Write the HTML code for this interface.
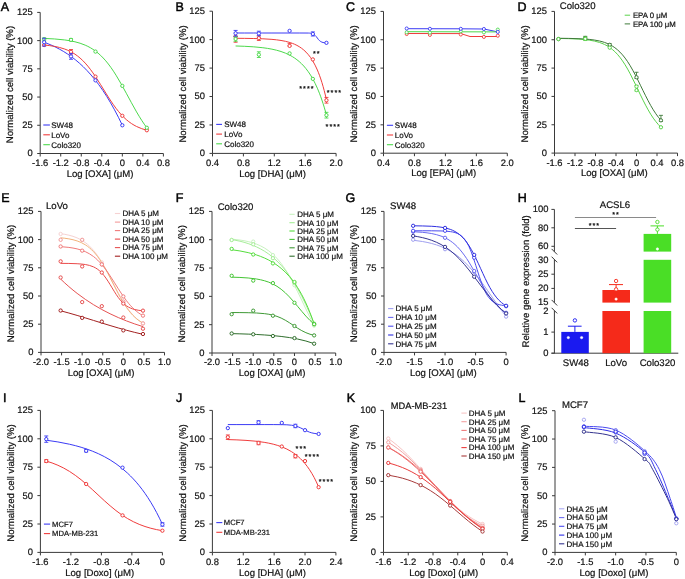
<!DOCTYPE html>
<html><head><meta charset="utf-8"><style>
html,body{margin:0;padding:0;background:#fff;}
svg{display:block;font-family:'Liberation Sans', sans-serif;will-change:transform;text-rendering:geometricPrecision;}
</style></head><body>
<svg width="685" height="579" viewBox="0 0 685 579">
<rect width="685" height="579" fill="#fff"/>
<text x="0.70" y="10.80" font-size="12.5" text-anchor="start" fill="#000" stroke="#000" stroke-width="0.45">A</text>
<text x="175.40" y="10.90" font-size="12.5" text-anchor="start" fill="#000" stroke="#000" stroke-width="0.45">B</text>
<text x="346.10" y="10.90" font-size="12.5" text-anchor="start" fill="#000" stroke="#000" stroke-width="0.45">C</text>
<text x="517.50" y="10.80" font-size="12.5" text-anchor="start" fill="#000" stroke="#000" stroke-width="0.45">D</text>
<text x="1.30" y="201.80" font-size="12.5" text-anchor="start" fill="#000" stroke="#000" stroke-width="0.45">E</text>
<text x="175.70" y="201.80" font-size="12.5" text-anchor="start" fill="#000" stroke="#000" stroke-width="0.45">F</text>
<text x="345.50" y="202.30" font-size="12.5" text-anchor="start" fill="#000" stroke="#000" stroke-width="0.45">G</text>
<text x="517.70" y="201.80" font-size="12.5" text-anchor="start" fill="#000" stroke="#000" stroke-width="0.45">H</text>
<text x="3.00" y="401.80" font-size="12.5" text-anchor="start" fill="#000" stroke="#000" stroke-width="0.45">I</text>
<text x="176.10" y="402.00" font-size="12.5" text-anchor="start" fill="#000" stroke="#000" stroke-width="0.45">J</text>
<text x="346.70" y="402.20" font-size="12.5" text-anchor="start" fill="#000" stroke="#000" stroke-width="0.45">K</text>
<text x="518.60" y="402.20" font-size="12.5" text-anchor="start" fill="#000" stroke="#000" stroke-width="0.45">L</text>
<line x1="40.20" y1="153.50" x2="163.40" y2="153.50" stroke="#3a3a3a" stroke-width="1.0"/>
<line x1="40.20" y1="153.50" x2="40.20" y2="12.40" stroke="#3a3a3a" stroke-width="1.0"/>
<line x1="37.20" y1="153.50" x2="40.20" y2="153.50" stroke="#3a3a3a" stroke-width="1.0"/>
<text x="32.70" y="156.40" font-size="9.4" text-anchor="end" fill="#111" stroke="#111" stroke-width="0.2">0</text>
<line x1="37.20" y1="125.28" x2="40.20" y2="125.28" stroke="#3a3a3a" stroke-width="1.0"/>
<text x="32.70" y="128.18" font-size="9.4" text-anchor="end" fill="#111" stroke="#111" stroke-width="0.2">25</text>
<line x1="37.20" y1="97.06" x2="40.20" y2="97.06" stroke="#3a3a3a" stroke-width="1.0"/>
<text x="32.70" y="99.96" font-size="9.4" text-anchor="end" fill="#111" stroke="#111" stroke-width="0.2">50</text>
<line x1="37.20" y1="68.84" x2="40.20" y2="68.84" stroke="#3a3a3a" stroke-width="1.0"/>
<text x="32.70" y="71.74" font-size="9.4" text-anchor="end" fill="#111" stroke="#111" stroke-width="0.2">75</text>
<line x1="37.20" y1="40.62" x2="40.20" y2="40.62" stroke="#3a3a3a" stroke-width="1.0"/>
<text x="32.70" y="43.52" font-size="9.4" text-anchor="end" fill="#111" stroke="#111" stroke-width="0.2">100</text>
<line x1="37.20" y1="12.40" x2="40.20" y2="12.40" stroke="#3a3a3a" stroke-width="1.0"/>
<text x="32.70" y="15.30" font-size="9.4" text-anchor="end" fill="#111" stroke="#111" stroke-width="0.2">125</text>
<line x1="40.20" y1="153.50" x2="40.20" y2="156.50" stroke="#3a3a3a" stroke-width="1.0"/>
<text x="40.20" y="165.90" font-size="9.4" text-anchor="middle" fill="#111" stroke="#111" stroke-width="0.2">-1.6</text>
<line x1="60.73" y1="153.50" x2="60.73" y2="156.50" stroke="#3a3a3a" stroke-width="1.0"/>
<text x="60.73" y="165.90" font-size="9.4" text-anchor="middle" fill="#111" stroke="#111" stroke-width="0.2">-1.2</text>
<line x1="81.27" y1="153.50" x2="81.27" y2="156.50" stroke="#3a3a3a" stroke-width="1.0"/>
<text x="81.27" y="165.90" font-size="9.4" text-anchor="middle" fill="#111" stroke="#111" stroke-width="0.2">-0.8</text>
<line x1="101.80" y1="153.50" x2="101.80" y2="156.50" stroke="#3a3a3a" stroke-width="1.0"/>
<text x="101.80" y="165.90" font-size="9.4" text-anchor="middle" fill="#111" stroke="#111" stroke-width="0.2">-0.4</text>
<line x1="122.33" y1="153.50" x2="122.33" y2="156.50" stroke="#3a3a3a" stroke-width="1.0"/>
<text x="122.33" y="165.90" font-size="9.4" text-anchor="middle" fill="#111" stroke="#111" stroke-width="0.2">0</text>
<line x1="142.87" y1="153.50" x2="142.87" y2="156.50" stroke="#3a3a3a" stroke-width="1.0"/>
<text x="142.87" y="165.90" font-size="9.4" text-anchor="middle" fill="#111" stroke="#111" stroke-width="0.2">0.4</text>
<line x1="163.40" y1="153.50" x2="163.40" y2="156.50" stroke="#3a3a3a" stroke-width="1.0"/>
<text x="163.40" y="165.90" font-size="9.4" text-anchor="middle" fill="#111" stroke="#111" stroke-width="0.2">0.8</text>
<text x="100.10" y="176.70" font-size="9.6" text-anchor="middle" fill="#111" stroke="#111" stroke-width="0.2">Log [OXA] (μM)</text>
<text x="13.50" y="84.55" font-size="9.6" text-anchor="middle" fill="#111" stroke="#111" stroke-width="0.2" transform="rotate(-90 13.50 84.55)">Normalized cell viability (%)</text>
<path d="M44.16,42.20 C46.76,43.17 49.37,44.23 51.98,45.41 C54.58,46.59 57.19,47.88 59.79,49.32 C62.40,50.75 65.01,52.32 67.61,54.06 C70.22,55.80 72.82,57.71 75.43,59.81 C78.03,61.91 80.64,64.20 83.25,66.72 C85.85,69.25 88.46,71.99 91.06,74.99 C93.67,78.00 96.28,81.26 98.88,84.81 C101.49,88.36 104.09,92.20 106.70,96.36 C109.30,100.52 111.91,105.00 114.52,109.81 C117.12,114.62 119.73,119.78 122.33,125.28" fill="none" stroke="#3b3bf5" stroke-width="1.0"/>
<path d="M44.16,45.01 C47.58,45.32 51.00,45.73 54.43,46.35 C57.85,46.98 61.27,47.81 64.69,49.04 C68.11,50.27 71.54,51.89 74.96,54.16 C78.38,56.44 81.80,59.37 85.23,63.12 C88.65,66.88 92.07,71.47 95.49,76.62 C98.91,81.77 102.34,87.47 105.76,92.98 C109.18,98.50 112.60,103.79 116.03,108.32 C119.45,112.85 122.87,116.62 126.29,119.60 C129.71,122.58 133.14,124.80 136.56,126.49 C139.98,128.18 143.40,129.36 146.83,130.24" fill="none" stroke="#f03c3c" stroke-width="1.0"/>
<path d="M44.16,38.43 C47.58,38.56 51.00,38.72 54.43,38.95 C57.85,39.19 61.27,39.50 64.69,39.94 C68.11,40.38 71.54,40.96 74.96,41.79 C78.38,42.61 81.80,43.68 85.23,45.16 C88.65,46.64 92.07,48.55 95.49,51.09 C98.91,53.64 102.34,56.84 105.76,60.84 C109.18,64.85 112.60,69.68 116.03,75.19 C119.45,80.71 122.87,86.90 126.29,93.23 C129.71,99.57 133.14,106.00 136.56,111.92 C139.98,117.83 143.40,123.20 146.83,127.74" fill="none" stroke="#4cd94c" stroke-width="1.0"/>
<circle cx="44.16" cy="45.02" r="1.65" fill="#fff" stroke="#f03c3c" stroke-width="1.0"/>
<line x1="71.00" y1="49.54" x2="71.00" y2="54.05" stroke="#f03c3c" stroke-width="0.9"/>
<line x1="69.00" y1="49.54" x2="73.00" y2="49.54" stroke="#f03c3c" stroke-width="0.9"/>
<line x1="69.00" y1="54.05" x2="73.00" y2="54.05" stroke="#f03c3c" stroke-width="0.9"/>
<circle cx="71.00" cy="51.80" r="1.65" fill="#fff" stroke="#f03c3c" stroke-width="1.0"/>
<circle cx="95.49" cy="76.63" r="1.65" fill="#fff" stroke="#f03c3c" stroke-width="1.0"/>
<circle cx="122.33" cy="115.80" r="1.65" fill="#fff" stroke="#f03c3c" stroke-width="1.0"/>
<circle cx="146.83" cy="130.25" r="1.65" fill="#fff" stroke="#f03c3c" stroke-width="1.0"/>
<line x1="44.16" y1="38.02" x2="44.16" y2="40.28" stroke="#4cd94c" stroke-width="0.9"/>
<line x1="42.16" y1="38.02" x2="46.16" y2="38.02" stroke="#4cd94c" stroke-width="0.9"/>
<line x1="42.16" y1="40.28" x2="46.16" y2="40.28" stroke="#4cd94c" stroke-width="0.9"/>
<circle cx="44.16" cy="39.15" r="1.65" fill="#fff" stroke="#4cd94c" stroke-width="1.0"/>
<line x1="71.00" y1="38.70" x2="71.00" y2="40.96" stroke="#4cd94c" stroke-width="0.9"/>
<line x1="69.00" y1="38.70" x2="73.00" y2="38.70" stroke="#4cd94c" stroke-width="0.9"/>
<line x1="69.00" y1="40.96" x2="73.00" y2="40.96" stroke="#4cd94c" stroke-width="0.9"/>
<circle cx="71.00" cy="39.83" r="1.65" fill="#fff" stroke="#4cd94c" stroke-width="1.0"/>
<circle cx="95.49" cy="51.57" r="1.65" fill="#fff" stroke="#4cd94c" stroke-width="1.0"/>
<circle cx="122.33" cy="85.88" r="1.65" fill="#fff" stroke="#4cd94c" stroke-width="1.0"/>
<circle cx="146.83" cy="127.76" r="1.65" fill="#fff" stroke="#4cd94c" stroke-width="1.0"/>
<line x1="44.16" y1="38.25" x2="44.16" y2="46.15" stroke="#3b3bf5" stroke-width="0.9"/>
<line x1="42.16" y1="38.25" x2="46.16" y2="38.25" stroke="#3b3bf5" stroke-width="0.9"/>
<line x1="42.16" y1="46.15" x2="46.16" y2="46.15" stroke="#3b3bf5" stroke-width="0.9"/>
<circle cx="44.16" cy="42.20" r="1.65" fill="#fff" stroke="#3b3bf5" stroke-width="1.0"/>
<line x1="71.00" y1="53.60" x2="71.00" y2="59.25" stroke="#3b3bf5" stroke-width="0.9"/>
<line x1="69.00" y1="53.60" x2="73.00" y2="53.60" stroke="#3b3bf5" stroke-width="0.9"/>
<line x1="69.00" y1="59.25" x2="73.00" y2="59.25" stroke="#3b3bf5" stroke-width="0.9"/>
<circle cx="71.00" cy="56.42" r="1.65" fill="#fff" stroke="#3b3bf5" stroke-width="1.0"/>
<circle cx="95.49" cy="80.35" r="1.65" fill="#fff" stroke="#3b3bf5" stroke-width="1.0"/>
<circle cx="122.33" cy="125.28" r="1.65" fill="#fff" stroke="#3b3bf5" stroke-width="1.0"/>
<line x1="43.30" y1="125.00" x2="49.90" y2="125.00" stroke="#3b3bf5" stroke-width="1.1"/>
<text x="51.20" y="127.80" font-size="8.0" text-anchor="start" fill="#111" stroke="#111" stroke-width="0.2">SW48</text>
<line x1="43.30" y1="134.80" x2="49.90" y2="134.80" stroke="#f03c3c" stroke-width="1.1"/>
<text x="51.20" y="137.60" font-size="8.0" text-anchor="start" fill="#111" stroke="#111" stroke-width="0.2">LoVo</text>
<line x1="43.30" y1="144.70" x2="49.90" y2="144.70" stroke="#4cd94c" stroke-width="1.1"/>
<text x="51.20" y="147.50" font-size="8.0" text-anchor="start" fill="#111" stroke="#111" stroke-width="0.2">Colo320</text>
<line x1="212.50" y1="153.40" x2="336.10" y2="153.40" stroke="#3a3a3a" stroke-width="1.0"/>
<line x1="212.50" y1="153.40" x2="212.50" y2="11.20" stroke="#3a3a3a" stroke-width="1.0"/>
<line x1="209.50" y1="153.40" x2="212.50" y2="153.40" stroke="#3a3a3a" stroke-width="1.0"/>
<text x="205.00" y="156.30" font-size="9.4" text-anchor="end" fill="#111" stroke="#111" stroke-width="0.2">0</text>
<line x1="209.50" y1="124.96" x2="212.50" y2="124.96" stroke="#3a3a3a" stroke-width="1.0"/>
<text x="205.00" y="127.86" font-size="9.4" text-anchor="end" fill="#111" stroke="#111" stroke-width="0.2">25</text>
<line x1="209.50" y1="96.52" x2="212.50" y2="96.52" stroke="#3a3a3a" stroke-width="1.0"/>
<text x="205.00" y="99.42" font-size="9.4" text-anchor="end" fill="#111" stroke="#111" stroke-width="0.2">50</text>
<line x1="209.50" y1="68.08" x2="212.50" y2="68.08" stroke="#3a3a3a" stroke-width="1.0"/>
<text x="205.00" y="70.98" font-size="9.4" text-anchor="end" fill="#111" stroke="#111" stroke-width="0.2">75</text>
<line x1="209.50" y1="39.64" x2="212.50" y2="39.64" stroke="#3a3a3a" stroke-width="1.0"/>
<text x="205.00" y="42.54" font-size="9.4" text-anchor="end" fill="#111" stroke="#111" stroke-width="0.2">100</text>
<line x1="209.50" y1="11.20" x2="212.50" y2="11.20" stroke="#3a3a3a" stroke-width="1.0"/>
<text x="205.00" y="14.10" font-size="9.4" text-anchor="end" fill="#111" stroke="#111" stroke-width="0.2">125</text>
<line x1="212.50" y1="153.40" x2="212.50" y2="156.40" stroke="#3a3a3a" stroke-width="1.0"/>
<text x="212.50" y="165.80" font-size="9.4" text-anchor="middle" fill="#111" stroke="#111" stroke-width="0.2">0.4</text>
<line x1="243.40" y1="153.40" x2="243.40" y2="156.40" stroke="#3a3a3a" stroke-width="1.0"/>
<text x="243.40" y="165.80" font-size="9.4" text-anchor="middle" fill="#111" stroke="#111" stroke-width="0.2">0.8</text>
<line x1="274.30" y1="153.40" x2="274.30" y2="156.40" stroke="#3a3a3a" stroke-width="1.0"/>
<text x="274.30" y="165.80" font-size="9.4" text-anchor="middle" fill="#111" stroke="#111" stroke-width="0.2">1.2</text>
<line x1="305.20" y1="153.40" x2="305.20" y2="156.40" stroke="#3a3a3a" stroke-width="1.0"/>
<text x="305.20" y="165.80" font-size="9.4" text-anchor="middle" fill="#111" stroke="#111" stroke-width="0.2">1.6</text>
<line x1="336.10" y1="153.40" x2="336.10" y2="156.40" stroke="#3a3a3a" stroke-width="1.0"/>
<text x="336.10" y="165.80" font-size="9.4" text-anchor="middle" fill="#111" stroke="#111" stroke-width="0.2">2.0</text>
<text x="272.60" y="176.60" font-size="9.6" text-anchor="middle" fill="#111" stroke="#111" stroke-width="0.2">Log [DHA] (μM)</text>
<text x="185.80" y="83.90" font-size="9.6" text-anchor="middle" fill="#111" stroke="#111" stroke-width="0.2" transform="rotate(-90 185.80 83.90)">Normalized cell viability (%)</text>
<path d="M235.60,33.00 C238.62,33.00 241.65,33.00 244.68,33.00 C247.71,33.00 250.74,33.00 253.77,33.00 C256.79,33.00 259.82,33.00 262.85,33.00 C265.88,33.00 268.91,33.00 271.94,33.00 C274.97,33.00 277.99,33.00 281.02,33.00 C284.05,33.00 287.08,33.00 290.11,33.00 C293.14,33.00 296.16,33.00 299.19,33.00 C302.22,33.00 305.25,32.96 308.28,33.04 C311.31,33.11 314.33,33.50 317.36,38.07 C320.39,42.65 323.42,42.76 326.45,42.83" fill="none" stroke="#3b3bf5" stroke-width="1.0"/>
<path d="M235.60,38.30 C238.62,38.31 241.65,38.34 244.68,38.37 C247.71,38.41 250.74,38.45 253.77,38.52 C256.79,38.59 259.82,38.68 262.85,38.81 C265.88,38.94 268.91,39.11 271.94,39.37 C274.97,39.63 277.99,39.96 281.02,40.46 C284.05,40.95 287.08,41.60 290.11,42.57 C293.14,43.53 296.16,44.79 299.19,46.66 C302.22,48.52 305.25,50.98 308.28,54.60 C311.31,58.22 314.33,62.98 317.36,70.01 C320.39,77.03 323.42,86.27 326.45,99.90" fill="none" stroke="#f03c3c" stroke-width="1.0"/>
<path d="M235.60,45.97 C238.62,46.06 241.65,46.16 244.68,46.30 C247.71,46.44 250.74,46.62 253.77,46.84 C256.79,47.07 259.82,47.36 262.85,47.73 C265.88,48.10 268.91,48.56 271.94,49.17 C274.97,49.77 277.99,50.52 281.02,51.51 C284.05,52.50 287.08,53.72 290.11,55.33 C293.14,56.94 296.16,58.93 299.19,61.56 C302.22,64.18 305.25,67.43 308.28,71.70 C311.31,75.97 314.33,81.26 317.36,88.22 C320.39,95.18 323.42,103.80 326.45,115.13" fill="none" stroke="#4cd94c" stroke-width="1.0"/>
<line x1="235.60" y1="36.57" x2="235.60" y2="42.26" stroke="#f03c3c" stroke-width="0.9"/>
<line x1="233.60" y1="36.57" x2="237.60" y2="36.57" stroke="#f03c3c" stroke-width="0.9"/>
<line x1="233.60" y1="42.26" x2="237.60" y2="42.26" stroke="#f03c3c" stroke-width="0.9"/>
<circle cx="235.60" cy="36.57" r="1.65" fill="#fff" stroke="#f03c3c" stroke-width="1.0"/>
<line x1="258.85" y1="35.89" x2="258.85" y2="40.44" stroke="#f03c3c" stroke-width="0.9"/>
<line x1="256.85" y1="35.89" x2="260.85" y2="35.89" stroke="#f03c3c" stroke-width="0.9"/>
<line x1="256.85" y1="40.44" x2="260.85" y2="40.44" stroke="#f03c3c" stroke-width="0.9"/>
<circle cx="258.85" cy="38.16" r="1.65" fill="#fff" stroke="#f03c3c" stroke-width="1.0"/>
<line x1="289.59" y1="43.62" x2="289.59" y2="45.90" stroke="#f03c3c" stroke-width="0.9"/>
<line x1="287.59" y1="43.62" x2="291.59" y2="43.62" stroke="#f03c3c" stroke-width="0.9"/>
<line x1="287.59" y1="45.90" x2="291.59" y2="45.90" stroke="#f03c3c" stroke-width="0.9"/>
<circle cx="289.59" cy="45.90" r="1.65" fill="#fff" stroke="#f03c3c" stroke-width="1.0"/>
<circle cx="312.85" cy="59.43" r="1.65" fill="#fff" stroke="#f03c3c" stroke-width="1.0"/>
<line x1="326.45" y1="97.43" x2="326.45" y2="103.12" stroke="#f03c3c" stroke-width="0.9"/>
<line x1="324.45" y1="97.43" x2="328.45" y2="97.43" stroke="#f03c3c" stroke-width="0.9"/>
<line x1="324.45" y1="103.12" x2="328.45" y2="103.12" stroke="#f03c3c" stroke-width="0.9"/>
<circle cx="326.45" cy="100.27" r="1.65" fill="#fff" stroke="#f03c3c" stroke-width="1.0"/>
<line x1="235.60" y1="36.68" x2="235.60" y2="41.23" stroke="#4cd94c" stroke-width="0.9"/>
<line x1="233.60" y1="36.68" x2="237.60" y2="36.68" stroke="#4cd94c" stroke-width="0.9"/>
<line x1="233.60" y1="41.23" x2="237.60" y2="41.23" stroke="#4cd94c" stroke-width="0.9"/>
<circle cx="235.60" cy="38.96" r="1.65" fill="#fff" stroke="#4cd94c" stroke-width="1.0"/>
<line x1="258.85" y1="51.81" x2="258.85" y2="57.50" stroke="#4cd94c" stroke-width="0.9"/>
<line x1="256.85" y1="51.81" x2="260.85" y2="51.81" stroke="#4cd94c" stroke-width="0.9"/>
<line x1="256.85" y1="57.50" x2="260.85" y2="57.50" stroke="#4cd94c" stroke-width="0.9"/>
<circle cx="258.85" cy="54.66" r="1.65" fill="#fff" stroke="#4cd94c" stroke-width="1.0"/>
<circle cx="289.59" cy="53.40" r="1.65" fill="#fff" stroke="#4cd94c" stroke-width="1.0"/>
<circle cx="312.85" cy="78.89" r="1.65" fill="#fff" stroke="#4cd94c" stroke-width="1.0"/>
<line x1="326.45" y1="112.33" x2="326.45" y2="118.02" stroke="#4cd94c" stroke-width="0.9"/>
<line x1="324.45" y1="112.33" x2="328.45" y2="112.33" stroke="#4cd94c" stroke-width="0.9"/>
<line x1="324.45" y1="118.02" x2="328.45" y2="118.02" stroke="#4cd94c" stroke-width="0.9"/>
<circle cx="326.45" cy="115.18" r="1.65" fill="#fff" stroke="#4cd94c" stroke-width="1.0"/>
<line x1="235.60" y1="30.43" x2="235.60" y2="36.11" stroke="#3b3bf5" stroke-width="0.9"/>
<line x1="233.60" y1="30.43" x2="237.60" y2="30.43" stroke="#3b3bf5" stroke-width="0.9"/>
<line x1="233.60" y1="36.11" x2="237.60" y2="36.11" stroke="#3b3bf5" stroke-width="0.9"/>
<circle cx="235.60" cy="33.27" r="1.65" fill="#fff" stroke="#3b3bf5" stroke-width="1.0"/>
<line x1="258.85" y1="31.22" x2="258.85" y2="35.77" stroke="#3b3bf5" stroke-width="0.9"/>
<line x1="256.85" y1="31.22" x2="260.85" y2="31.22" stroke="#3b3bf5" stroke-width="0.9"/>
<line x1="256.85" y1="35.77" x2="260.85" y2="35.77" stroke="#3b3bf5" stroke-width="0.9"/>
<circle cx="258.85" cy="33.50" r="1.65" fill="#fff" stroke="#3b3bf5" stroke-width="1.0"/>
<circle cx="289.59" cy="30.88" r="1.65" fill="#fff" stroke="#3b3bf5" stroke-width="1.0"/>
<line x1="312.85" y1="31.90" x2="312.85" y2="36.00" stroke="#3b3bf5" stroke-width="0.9"/>
<line x1="310.85" y1="31.90" x2="314.85" y2="31.90" stroke="#3b3bf5" stroke-width="0.9"/>
<line x1="310.85" y1="36.00" x2="314.85" y2="36.00" stroke="#3b3bf5" stroke-width="0.9"/>
<circle cx="312.85" cy="33.95" r="1.65" fill="#fff" stroke="#3b3bf5" stroke-width="1.0"/>
<circle cx="326.45" cy="42.83" r="1.65" fill="#fff" stroke="#3b3bf5" stroke-width="1.0"/>
<line x1="216.20" y1="124.40" x2="222.00" y2="124.40" stroke="#3b3bf5" stroke-width="1.1"/>
<text x="224.20" y="127.20" font-size="8.0" text-anchor="start" fill="#111" stroke="#111" stroke-width="0.2">SW48</text>
<line x1="216.20" y1="134.10" x2="222.00" y2="134.10" stroke="#f03c3c" stroke-width="1.1"/>
<text x="224.20" y="136.90" font-size="8.0" text-anchor="start" fill="#111" stroke="#111" stroke-width="0.2">LoVo</text>
<line x1="216.20" y1="143.80" x2="222.00" y2="143.80" stroke="#4cd94c" stroke-width="1.1"/>
<text x="224.20" y="146.60" font-size="8.0" text-anchor="start" fill="#111" stroke="#111" stroke-width="0.2">Colo320</text>
<text x="316.80" y="55.90" font-size="7.2" text-anchor="middle" letter-spacing="1.0" fill="#111" stroke="#111" stroke-width="0.25">**</text>
<text x="306.90" y="91.30" font-size="7.2" text-anchor="middle" letter-spacing="1.0" fill="#111" stroke="#111" stroke-width="0.25">****</text>
<text x="334.40" y="95.30" font-size="7.2" text-anchor="middle" letter-spacing="1.0" fill="#111" stroke="#111" stroke-width="0.25">****</text>
<text x="333.20" y="129.00" font-size="7.2" text-anchor="middle" letter-spacing="1.0" fill="#111" stroke="#111" stroke-width="0.25">****</text>
<line x1="383.50" y1="153.20" x2="507.30" y2="153.20" stroke="#3a3a3a" stroke-width="1.0"/>
<line x1="383.50" y1="153.20" x2="383.50" y2="11.40" stroke="#3a3a3a" stroke-width="1.0"/>
<line x1="380.50" y1="153.20" x2="383.50" y2="153.20" stroke="#3a3a3a" stroke-width="1.0"/>
<text x="376.00" y="156.10" font-size="9.4" text-anchor="end" fill="#111" stroke="#111" stroke-width="0.2">0</text>
<line x1="380.50" y1="124.84" x2="383.50" y2="124.84" stroke="#3a3a3a" stroke-width="1.0"/>
<text x="376.00" y="127.74" font-size="9.4" text-anchor="end" fill="#111" stroke="#111" stroke-width="0.2">25</text>
<line x1="380.50" y1="96.48" x2="383.50" y2="96.48" stroke="#3a3a3a" stroke-width="1.0"/>
<text x="376.00" y="99.38" font-size="9.4" text-anchor="end" fill="#111" stroke="#111" stroke-width="0.2">50</text>
<line x1="380.50" y1="68.12" x2="383.50" y2="68.12" stroke="#3a3a3a" stroke-width="1.0"/>
<text x="376.00" y="71.02" font-size="9.4" text-anchor="end" fill="#111" stroke="#111" stroke-width="0.2">75</text>
<line x1="380.50" y1="39.76" x2="383.50" y2="39.76" stroke="#3a3a3a" stroke-width="1.0"/>
<text x="376.00" y="42.66" font-size="9.4" text-anchor="end" fill="#111" stroke="#111" stroke-width="0.2">100</text>
<line x1="380.50" y1="11.40" x2="383.50" y2="11.40" stroke="#3a3a3a" stroke-width="1.0"/>
<text x="376.00" y="14.30" font-size="9.4" text-anchor="end" fill="#111" stroke="#111" stroke-width="0.2">125</text>
<line x1="383.50" y1="153.20" x2="383.50" y2="156.20" stroke="#3a3a3a" stroke-width="1.0"/>
<text x="383.50" y="165.60" font-size="9.4" text-anchor="middle" fill="#111" stroke="#111" stroke-width="0.2">0.4</text>
<line x1="414.45" y1="153.20" x2="414.45" y2="156.20" stroke="#3a3a3a" stroke-width="1.0"/>
<text x="414.45" y="165.60" font-size="9.4" text-anchor="middle" fill="#111" stroke="#111" stroke-width="0.2">0.8</text>
<line x1="445.40" y1="153.20" x2="445.40" y2="156.20" stroke="#3a3a3a" stroke-width="1.0"/>
<text x="445.40" y="165.60" font-size="9.4" text-anchor="middle" fill="#111" stroke="#111" stroke-width="0.2">1.2</text>
<line x1="476.35" y1="153.20" x2="476.35" y2="156.20" stroke="#3a3a3a" stroke-width="1.0"/>
<text x="476.35" y="165.60" font-size="9.4" text-anchor="middle" fill="#111" stroke="#111" stroke-width="0.2">1.6</text>
<line x1="507.30" y1="153.20" x2="507.30" y2="156.20" stroke="#3a3a3a" stroke-width="1.0"/>
<text x="507.30" y="165.60" font-size="9.4" text-anchor="middle" fill="#111" stroke="#111" stroke-width="0.2">2.0</text>
<text x="443.70" y="176.40" font-size="9.6" text-anchor="middle" fill="#111" stroke="#111" stroke-width="0.2">Log [EPA] (μM)</text>
<text x="356.80" y="83.90" font-size="9.6" text-anchor="middle" fill="#111" stroke="#111" stroke-width="0.2" transform="rotate(-90 356.80 83.90)">Normalized cell viability (%)</text>
<path d="M406.7,28.7 L460.8,28.8 L483.9,29.0 L497.8,31.9" fill="none" stroke="#3b3bf5" stroke-width="1.0"/>
<path d="M406.7,31.7 L497.8,31.9" fill="none" stroke="#4cd94c" stroke-width="1.0"/>
<path d="M406.7,33.5 L460.8,33.6 L470,36.5 L497.8,36.5" fill="none" stroke="#f03c3c" stroke-width="1.0"/>
<circle cx="406.70" cy="34.00" r="1.55" fill="#fff" stroke="#f03c3c" stroke-width="0.9"/>
<circle cx="429.90" cy="34.90" r="1.55" fill="#fff" stroke="#f03c3c" stroke-width="0.9"/>
<circle cx="460.80" cy="34.50" r="1.55" fill="#fff" stroke="#f03c3c" stroke-width="0.9"/>
<circle cx="483.90" cy="36.90" r="1.55" fill="#fff" stroke="#f03c3c" stroke-width="0.9"/>
<circle cx="497.80" cy="35.70" r="1.55" fill="#fff" stroke="#f03c3c" stroke-width="0.9"/>
<circle cx="406.70" cy="32.30" r="1.55" fill="#fff" stroke="#4cd94c" stroke-width="0.9"/>
<circle cx="429.90" cy="32.60" r="1.55" fill="#fff" stroke="#4cd94c" stroke-width="0.9"/>
<circle cx="460.80" cy="31.20" r="1.55" fill="#fff" stroke="#4cd94c" stroke-width="0.9"/>
<circle cx="483.90" cy="32.40" r="1.55" fill="#fff" stroke="#4cd94c" stroke-width="0.9"/>
<circle cx="497.80" cy="29.60" r="1.55" fill="#fff" stroke="#4cd94c" stroke-width="0.9"/>
<circle cx="406.70" cy="28.50" r="1.55" fill="#fff" stroke="#3b3bf5" stroke-width="0.9"/>
<circle cx="429.90" cy="28.80" r="1.55" fill="#fff" stroke="#3b3bf5" stroke-width="0.9"/>
<circle cx="460.80" cy="28.80" r="1.55" fill="#fff" stroke="#3b3bf5" stroke-width="0.9"/>
<circle cx="483.90" cy="29.00" r="1.55" fill="#fff" stroke="#3b3bf5" stroke-width="0.9"/>
<circle cx="497.80" cy="31.90" r="1.55" fill="#fff" stroke="#3b3bf5" stroke-width="0.9"/>
<line x1="386.90" y1="125.30" x2="393.10" y2="125.30" stroke="#3b3bf5" stroke-width="1.1"/>
<text x="394.80" y="128.10" font-size="8.0" text-anchor="start" fill="#111" stroke="#111" stroke-width="0.2">SW48</text>
<line x1="386.90" y1="135.00" x2="393.10" y2="135.00" stroke="#f03c3c" stroke-width="1.1"/>
<text x="394.80" y="137.80" font-size="8.0" text-anchor="start" fill="#111" stroke="#111" stroke-width="0.2">LoVo</text>
<line x1="386.90" y1="144.70" x2="393.10" y2="144.70" stroke="#4cd94c" stroke-width="1.1"/>
<text x="394.80" y="147.50" font-size="8.0" text-anchor="start" fill="#111" stroke="#111" stroke-width="0.2">Colo320</text>
<line x1="554.50" y1="153.10" x2="677.50" y2="153.10" stroke="#3a3a3a" stroke-width="1.0"/>
<line x1="554.50" y1="153.10" x2="554.50" y2="11.40" stroke="#3a3a3a" stroke-width="1.0"/>
<line x1="551.50" y1="153.10" x2="554.50" y2="153.10" stroke="#3a3a3a" stroke-width="1.0"/>
<text x="547.00" y="156.00" font-size="9.4" text-anchor="end" fill="#111" stroke="#111" stroke-width="0.2">0</text>
<line x1="551.50" y1="124.76" x2="554.50" y2="124.76" stroke="#3a3a3a" stroke-width="1.0"/>
<text x="547.00" y="127.66" font-size="9.4" text-anchor="end" fill="#111" stroke="#111" stroke-width="0.2">25</text>
<line x1="551.50" y1="96.42" x2="554.50" y2="96.42" stroke="#3a3a3a" stroke-width="1.0"/>
<text x="547.00" y="99.32" font-size="9.4" text-anchor="end" fill="#111" stroke="#111" stroke-width="0.2">50</text>
<line x1="551.50" y1="68.08" x2="554.50" y2="68.08" stroke="#3a3a3a" stroke-width="1.0"/>
<text x="547.00" y="70.98" font-size="9.4" text-anchor="end" fill="#111" stroke="#111" stroke-width="0.2">75</text>
<line x1="551.50" y1="39.74" x2="554.50" y2="39.74" stroke="#3a3a3a" stroke-width="1.0"/>
<text x="547.00" y="42.64" font-size="9.4" text-anchor="end" fill="#111" stroke="#111" stroke-width="0.2">100</text>
<line x1="551.50" y1="11.40" x2="554.50" y2="11.40" stroke="#3a3a3a" stroke-width="1.0"/>
<text x="547.00" y="14.30" font-size="9.4" text-anchor="end" fill="#111" stroke="#111" stroke-width="0.2">125</text>
<line x1="554.50" y1="153.10" x2="554.50" y2="156.10" stroke="#3a3a3a" stroke-width="1.0"/>
<text x="554.50" y="165.50" font-size="9.4" text-anchor="middle" fill="#111" stroke="#111" stroke-width="0.2">-1.6</text>
<line x1="575.00" y1="153.10" x2="575.00" y2="156.10" stroke="#3a3a3a" stroke-width="1.0"/>
<text x="575.00" y="165.50" font-size="9.4" text-anchor="middle" fill="#111" stroke="#111" stroke-width="0.2">-1.2</text>
<line x1="595.50" y1="153.10" x2="595.50" y2="156.10" stroke="#3a3a3a" stroke-width="1.0"/>
<text x="595.50" y="165.50" font-size="9.4" text-anchor="middle" fill="#111" stroke="#111" stroke-width="0.2">-0.8</text>
<line x1="616.00" y1="153.10" x2="616.00" y2="156.10" stroke="#3a3a3a" stroke-width="1.0"/>
<text x="616.00" y="165.50" font-size="9.4" text-anchor="middle" fill="#111" stroke="#111" stroke-width="0.2">-0.4</text>
<line x1="636.50" y1="153.10" x2="636.50" y2="156.10" stroke="#3a3a3a" stroke-width="1.0"/>
<text x="636.50" y="165.50" font-size="9.4" text-anchor="middle" fill="#111" stroke="#111" stroke-width="0.2">0</text>
<line x1="657.00" y1="153.10" x2="657.00" y2="156.10" stroke="#3a3a3a" stroke-width="1.0"/>
<text x="657.00" y="165.50" font-size="9.4" text-anchor="middle" fill="#111" stroke="#111" stroke-width="0.2">0.4</text>
<line x1="677.50" y1="153.10" x2="677.50" y2="156.10" stroke="#3a3a3a" stroke-width="1.0"/>
<text x="677.50" y="165.50" font-size="9.4" text-anchor="middle" fill="#111" stroke="#111" stroke-width="0.2">0.8</text>
<text x="614.30" y="176.30" font-size="9.6" text-anchor="middle" fill="#111" stroke="#111" stroke-width="0.2">Log [OXA] (μM)</text>
<text x="527.80" y="83.85" font-size="9.6" text-anchor="middle" fill="#111" stroke="#111" stroke-width="0.2" transform="rotate(-90 527.80 83.85)">Normalized cell viability (%)</text>
<path d="M558.45,38.45 C561.87,38.50 565.29,38.55 568.70,38.65 C572.12,38.74 575.54,38.88 578.95,39.10 C582.37,39.32 585.79,39.62 589.20,40.13 C592.62,40.63 596.04,41.33 599.45,42.45 C602.87,43.57 606.29,45.11 609.70,47.46 C613.12,49.80 616.54,52.98 619.95,57.35 C623.37,61.71 626.79,67.31 630.20,73.84 C633.62,80.37 637.04,87.78 640.45,94.89 C643.87,102.01 647.29,108.71 650.70,114.21 C654.12,119.70 657.54,124.01 660.95,127.24" fill="none" stroke="#5ad34a" stroke-width="1.0"/>
<path d="M558.45,38.28 C561.87,38.30 565.29,38.34 568.70,38.40 C572.12,38.46 575.54,38.55 578.95,38.70 C582.37,38.84 585.79,39.05 589.20,39.39 C592.62,39.73 596.04,40.21 599.45,40.99 C602.87,41.78 606.29,42.87 609.70,44.58 C613.12,46.30 616.54,48.66 619.95,52.09 C623.37,55.51 626.79,60.06 630.20,65.74 C633.62,71.43 637.04,78.27 640.45,85.30 C643.87,92.32 647.29,99.42 650.70,105.47 C654.12,111.52 657.54,116.52 660.95,120.33" fill="none" stroke="#3f7a3a" stroke-width="1.0"/>
<circle cx="558.45" cy="39.06" r="1.65" fill="#fff" stroke="#3f7a3a" stroke-width="1.0"/>
<line x1="585.25" y1="36.34" x2="585.25" y2="39.74" stroke="#3f7a3a" stroke-width="0.9"/>
<line x1="583.25" y1="36.34" x2="587.25" y2="36.34" stroke="#3f7a3a" stroke-width="0.9"/>
<line x1="583.25" y1="39.74" x2="587.25" y2="39.74" stroke="#3f7a3a" stroke-width="0.9"/>
<circle cx="585.25" cy="38.04" r="1.65" fill="#fff" stroke="#3f7a3a" stroke-width="1.0"/>
<line x1="609.70" y1="43.71" x2="609.70" y2="45.97" stroke="#3f7a3a" stroke-width="0.9"/>
<line x1="607.70" y1="43.71" x2="611.70" y2="43.71" stroke="#3f7a3a" stroke-width="0.9"/>
<line x1="607.70" y1="45.97" x2="611.70" y2="45.97" stroke="#3f7a3a" stroke-width="0.9"/>
<circle cx="609.70" cy="44.84" r="1.65" fill="#fff" stroke="#3f7a3a" stroke-width="1.0"/>
<line x1="636.50" y1="72.27" x2="636.50" y2="78.40" stroke="#3f7a3a" stroke-width="0.9"/>
<line x1="634.50" y1="72.27" x2="638.50" y2="72.27" stroke="#3f7a3a" stroke-width="0.9"/>
<line x1="634.50" y1="78.40" x2="638.50" y2="78.40" stroke="#3f7a3a" stroke-width="0.9"/>
<circle cx="636.50" cy="77.26" r="1.65" fill="#fff" stroke="#3f7a3a" stroke-width="1.0"/>
<line x1="660.95" y1="115.35" x2="660.95" y2="121.47" stroke="#3f7a3a" stroke-width="0.9"/>
<line x1="658.95" y1="115.35" x2="662.95" y2="115.35" stroke="#3f7a3a" stroke-width="0.9"/>
<line x1="658.95" y1="121.47" x2="662.95" y2="121.47" stroke="#3f7a3a" stroke-width="0.9"/>
<circle cx="660.95" cy="120.34" r="1.65" fill="#fff" stroke="#3f7a3a" stroke-width="1.0"/>
<circle cx="558.45" cy="39.06" r="1.65" fill="#fff" stroke="#5ad34a" stroke-width="1.0"/>
<line x1="585.25" y1="37.13" x2="585.25" y2="40.53" stroke="#5ad34a" stroke-width="0.9"/>
<line x1="583.25" y1="37.13" x2="587.25" y2="37.13" stroke="#5ad34a" stroke-width="0.9"/>
<line x1="583.25" y1="40.53" x2="587.25" y2="40.53" stroke="#5ad34a" stroke-width="0.9"/>
<circle cx="585.25" cy="38.83" r="1.65" fill="#fff" stroke="#5ad34a" stroke-width="1.0"/>
<circle cx="609.70" cy="47.68" r="1.65" fill="#fff" stroke="#5ad34a" stroke-width="1.0"/>
<line x1="636.50" y1="85.42" x2="636.50" y2="90.98" stroke="#5ad34a" stroke-width="0.9"/>
<line x1="634.50" y1="85.42" x2="638.50" y2="85.42" stroke="#5ad34a" stroke-width="0.9"/>
<line x1="634.50" y1="90.98" x2="638.50" y2="90.98" stroke="#5ad34a" stroke-width="0.9"/>
<circle cx="636.50" cy="86.56" r="1.65" fill="#fff" stroke="#5ad34a" stroke-width="1.0"/>
<circle cx="660.95" cy="127.25" r="1.65" fill="#fff" stroke="#5ad34a" stroke-width="1.0"/>
<circle cx="636.50" cy="90.19" r="1.55" fill="#fff" stroke="#5ad34a" stroke-width="1.0"/>
<text x="559.80" y="9.00" font-size="9.6" text-anchor="start" fill="#111" stroke="#111" stroke-width="0.2">Colo320</text>
<line x1="624.70" y1="15.20" x2="630.10" y2="15.20" stroke="#5ad34a" stroke-width="1.0"/>
<text x="632.90" y="18.00" font-size="7.8" text-anchor="start" fill="#111" stroke="#111" stroke-width="0.2">EPA 0 μM</text>
<line x1="624.70" y1="23.90" x2="630.10" y2="23.90" stroke="#3f7a3a" stroke-width="1.0"/>
<text x="632.90" y="26.70" font-size="7.8" text-anchor="start" fill="#111" stroke="#111" stroke-width="0.2">EPA 100 μM</text>
<line x1="41.00" y1="352.40" x2="164.50" y2="352.40" stroke="#3a3a3a" stroke-width="1.0"/>
<line x1="41.00" y1="352.40" x2="41.00" y2="211.40" stroke="#3a3a3a" stroke-width="1.0"/>
<line x1="38.00" y1="352.40" x2="41.00" y2="352.40" stroke="#3a3a3a" stroke-width="1.0"/>
<text x="33.50" y="355.30" font-size="9.4" text-anchor="end" fill="#111" stroke="#111" stroke-width="0.2">0</text>
<line x1="38.00" y1="324.20" x2="41.00" y2="324.20" stroke="#3a3a3a" stroke-width="1.0"/>
<text x="33.50" y="327.10" font-size="9.4" text-anchor="end" fill="#111" stroke="#111" stroke-width="0.2">25</text>
<line x1="38.00" y1="296.00" x2="41.00" y2="296.00" stroke="#3a3a3a" stroke-width="1.0"/>
<text x="33.50" y="298.90" font-size="9.4" text-anchor="end" fill="#111" stroke="#111" stroke-width="0.2">50</text>
<line x1="38.00" y1="267.80" x2="41.00" y2="267.80" stroke="#3a3a3a" stroke-width="1.0"/>
<text x="33.50" y="270.70" font-size="9.4" text-anchor="end" fill="#111" stroke="#111" stroke-width="0.2">75</text>
<line x1="38.00" y1="239.60" x2="41.00" y2="239.60" stroke="#3a3a3a" stroke-width="1.0"/>
<text x="33.50" y="242.50" font-size="9.4" text-anchor="end" fill="#111" stroke="#111" stroke-width="0.2">100</text>
<line x1="38.00" y1="211.40" x2="41.00" y2="211.40" stroke="#3a3a3a" stroke-width="1.0"/>
<text x="33.50" y="214.30" font-size="9.4" text-anchor="end" fill="#111" stroke="#111" stroke-width="0.2">125</text>
<line x1="41.00" y1="352.40" x2="41.00" y2="355.40" stroke="#3a3a3a" stroke-width="1.0"/>
<text x="41.00" y="364.80" font-size="9.4" text-anchor="middle" fill="#111" stroke="#111" stroke-width="0.2">-2.0</text>
<line x1="61.58" y1="352.40" x2="61.58" y2="355.40" stroke="#3a3a3a" stroke-width="1.0"/>
<text x="61.58" y="364.80" font-size="9.4" text-anchor="middle" fill="#111" stroke="#111" stroke-width="0.2">-1.5</text>
<line x1="82.17" y1="352.40" x2="82.17" y2="355.40" stroke="#3a3a3a" stroke-width="1.0"/>
<text x="82.17" y="364.80" font-size="9.4" text-anchor="middle" fill="#111" stroke="#111" stroke-width="0.2">-1.0</text>
<line x1="102.75" y1="352.40" x2="102.75" y2="355.40" stroke="#3a3a3a" stroke-width="1.0"/>
<text x="102.75" y="364.80" font-size="9.4" text-anchor="middle" fill="#111" stroke="#111" stroke-width="0.2">-0.5</text>
<line x1="123.33" y1="352.40" x2="123.33" y2="355.40" stroke="#3a3a3a" stroke-width="1.0"/>
<text x="123.33" y="364.80" font-size="9.4" text-anchor="middle" fill="#111" stroke="#111" stroke-width="0.2">0</text>
<line x1="143.92" y1="352.40" x2="143.92" y2="355.40" stroke="#3a3a3a" stroke-width="1.0"/>
<text x="143.92" y="364.80" font-size="9.4" text-anchor="middle" fill="#111" stroke="#111" stroke-width="0.2">0.5</text>
<line x1="164.50" y1="352.40" x2="164.50" y2="355.40" stroke="#3a3a3a" stroke-width="1.0"/>
<text x="164.50" y="364.80" font-size="9.4" text-anchor="middle" fill="#111" stroke="#111" stroke-width="0.2">1.0</text>
<text x="101.05" y="375.60" font-size="9.6" text-anchor="middle" fill="#111" stroke="#111" stroke-width="0.2">Log [OXA] (μM)</text>
<text x="14.30" y="283.50" font-size="9.6" text-anchor="middle" fill="#111" stroke="#111" stroke-width="0.2" transform="rotate(-90 14.30 283.50)">Normalized cell viability (%)</text>
<path d="M60.64,233.70 C63.39,234.06 66.13,234.52 68.87,235.18 C71.62,235.84 74.36,236.70 77.11,237.88 C79.85,239.07 82.60,240.59 85.34,242.63 C88.09,244.67 90.83,247.23 93.57,250.46 C96.32,253.69 99.06,257.60 101.81,262.11 C104.55,266.62 107.30,271.74 110.04,277.04 C112.79,282.35 115.53,287.82 118.27,292.91 C121.02,298.00 123.76,302.71 126.51,306.74 C129.25,310.76 132.00,314.12 134.74,316.85 C137.49,319.58 140.23,321.69 142.97,323.35" fill="none" stroke="#f6d2d2" stroke-width="1.0"/>
<circle cx="60.64" cy="233.96" r="1.65" fill="#fff" stroke="#f6d2d2" stroke-width="1.0"/>
<circle cx="82.17" cy="240.05" r="1.65" fill="#fff" stroke="#f6d2d2" stroke-width="1.0"/>
<circle cx="101.81" cy="262.39" r="1.65" fill="#fff" stroke="#f6d2d2" stroke-width="1.0"/>
<circle cx="123.33" cy="301.64" r="1.65" fill="#fff" stroke="#f6d2d2" stroke-width="1.0"/>
<circle cx="142.97" cy="323.41" r="1.65" fill="#fff" stroke="#f6d2d2" stroke-width="1.0"/>
<path d="M60.64,237.80 C63.39,238.05 66.13,238.38 68.87,238.86 C71.62,239.35 74.36,239.99 77.11,240.93 C79.85,241.86 82.60,243.09 85.34,244.82 C88.09,246.55 90.83,248.78 93.57,251.72 C96.32,254.66 99.06,258.32 101.81,262.70 C104.55,267.08 107.30,272.17 110.04,277.53 C112.79,282.88 115.53,288.47 118.27,293.63 C121.02,298.79 123.76,303.51 126.51,307.46 C129.25,311.41 132.00,314.62 134.74,317.15 C137.49,319.68 140.23,321.56 142.97,323.01" fill="none" stroke="#f2b27a" stroke-width="1.0"/>
<circle cx="60.64" cy="239.83" r="1.65" fill="#fff" stroke="#f39a9a" stroke-width="1.0"/>
<circle cx="82.17" cy="239.83" r="1.65" fill="#fff" stroke="#f39a9a" stroke-width="1.0"/>
<circle cx="101.81" cy="264.42" r="1.65" fill="#fff" stroke="#f39a9a" stroke-width="1.0"/>
<circle cx="123.33" cy="301.64" r="1.65" fill="#fff" stroke="#f39a9a" stroke-width="1.0"/>
<circle cx="142.97" cy="323.41" r="1.65" fill="#fff" stroke="#f39a9a" stroke-width="1.0"/>
<path d="M60.64,246.64 C63.39,246.82 66.13,247.06 68.87,247.41 C71.62,247.77 74.36,248.23 77.11,248.90 C79.85,249.57 82.60,250.44 85.34,251.67 C88.09,252.90 90.83,254.48 93.57,256.58 C96.32,258.69 99.06,261.32 101.81,264.55 C104.55,267.77 107.30,271.59 110.04,275.75 C112.79,279.91 115.53,284.40 118.27,288.72 C121.02,293.04 123.76,297.17 126.51,300.75 C129.25,304.33 132.00,307.37 134.74,309.82 C137.49,312.28 140.23,314.17 142.97,315.65" fill="none" stroke="#f07a7a" stroke-width="1.0"/>
<circle cx="60.64" cy="246.48" r="1.65" fill="#fff" stroke="#f07a7a" stroke-width="1.0"/>
<circle cx="82.17" cy="250.65" r="1.65" fill="#fff" stroke="#f07a7a" stroke-width="1.0"/>
<circle cx="101.81" cy="264.42" r="1.65" fill="#fff" stroke="#f07a7a" stroke-width="1.0"/>
<circle cx="123.33" cy="296.45" r="1.65" fill="#fff" stroke="#f07a7a" stroke-width="1.0"/>
<circle cx="142.97" cy="315.63" r="1.65" fill="#fff" stroke="#f07a7a" stroke-width="1.0"/>
<path d="M60.64,263.37 C63.39,263.38 66.13,263.40 68.87,263.45 C71.62,263.50 74.36,263.57 77.11,263.72 C79.85,263.87 82.60,264.09 85.34,264.53 C88.09,264.98 90.83,265.65 93.57,266.90 C96.32,268.16 99.06,270.04 101.81,272.97 C104.55,275.89 107.30,279.94 110.04,284.44 C112.79,288.93 115.53,293.69 118.27,297.46 C121.02,301.22 123.76,303.99 126.51,305.87 C129.25,307.74 132.00,308.81 134.74,309.52 C137.49,310.23 140.23,310.58 142.97,310.82" fill="none" stroke="#ea4a4a" stroke-width="1.0"/>
<circle cx="60.64" cy="261.37" r="1.65" fill="#fff" stroke="#ea4a4a" stroke-width="1.0"/>
<circle cx="82.17" cy="266.45" r="1.65" fill="#fff" stroke="#ea4a4a" stroke-width="1.0"/>
<circle cx="101.81" cy="272.54" r="1.65" fill="#fff" stroke="#ea4a4a" stroke-width="1.0"/>
<circle cx="123.33" cy="303.56" r="1.65" fill="#fff" stroke="#ea4a4a" stroke-width="1.0"/>
<circle cx="142.97" cy="310.66" r="1.65" fill="#fff" stroke="#ea4a4a" stroke-width="1.0"/>
<path d="M60.64,279.06 C63.39,281.73 66.13,284.24 68.87,286.62 C71.62,289.00 74.36,291.24 77.11,293.36 C79.85,295.48 82.60,297.48 85.34,299.37 C88.09,301.26 90.83,303.04 93.57,304.72 C96.32,306.41 99.06,307.99 101.81,309.50 C104.55,311.00 107.30,312.41 110.04,313.75 C112.79,315.09 115.53,316.36 118.27,317.55 C121.02,318.74 123.76,319.87 126.51,320.93 C129.25,322.00 132.00,323.00 134.74,323.95 C137.49,324.90 140.23,325.79 142.97,326.64" fill="none" stroke="#e65252" stroke-width="1.0"/>
<circle cx="60.64" cy="277.50" r="1.65" fill="#fff" stroke="#e65252" stroke-width="1.0"/>
<circle cx="82.17" cy="302.09" r="1.65" fill="#fff" stroke="#e65252" stroke-width="1.0"/>
<circle cx="101.81" cy="306.15" r="1.65" fill="#fff" stroke="#e65252" stroke-width="1.0"/>
<circle cx="123.33" cy="317.54" r="1.65" fill="#fff" stroke="#e65252" stroke-width="1.0"/>
<circle cx="142.97" cy="328.71" r="1.65" fill="#fff" stroke="#e65252" stroke-width="1.0"/>
<path d="M60.64,310.79 C63.39,311.51 66.13,312.26 68.87,313.03 C71.62,313.80 74.36,314.60 77.11,315.41 C79.85,316.22 82.60,317.06 85.34,317.90 C88.09,318.74 90.83,319.60 93.57,320.45 C96.32,321.31 99.06,322.16 101.81,323.01 C104.55,323.86 107.30,324.71 110.04,325.53 C112.79,326.36 115.53,327.17 118.27,327.96 C121.02,328.75 123.76,329.52 126.51,330.26 C129.25,331.00 132.00,331.71 134.74,332.39 C137.49,333.07 140.23,333.72 142.97,334.33" fill="none" stroke="#a32121" stroke-width="1.0"/>
<circle cx="60.64" cy="310.55" r="1.65" fill="#fff" stroke="#a32121" stroke-width="1.0"/>
<circle cx="82.17" cy="317.88" r="1.65" fill="#fff" stroke="#a32121" stroke-width="1.0"/>
<circle cx="101.81" cy="321.61" r="1.65" fill="#fff" stroke="#a32121" stroke-width="1.0"/>
<circle cx="123.33" cy="330.40" r="1.65" fill="#fff" stroke="#a32121" stroke-width="1.0"/>
<circle cx="142.97" cy="334.01" r="1.65" fill="#fff" stroke="#a32121" stroke-width="1.0"/>
<text x="46.00" y="208.60" font-size="9.6" text-anchor="start" fill="#111" stroke="#111" stroke-width="0.2">LoVo</text>
<line x1="114.90" y1="213.50" x2="120.20" y2="213.50" stroke="#f6d2d2" stroke-width="1.1"/>
<text x="122.40" y="216.30" font-size="8.0" text-anchor="start" fill="#111" stroke="#111" stroke-width="0.2">DHA 5 μM</text>
<line x1="114.90" y1="222.10" x2="120.20" y2="222.10" stroke="#f39a9a" stroke-width="1.1"/>
<text x="122.40" y="224.90" font-size="8.0" text-anchor="start" fill="#111" stroke="#111" stroke-width="0.2">DHA 10 μM</text>
<line x1="114.90" y1="230.60" x2="120.20" y2="230.60" stroke="#f07a7a" stroke-width="1.1"/>
<text x="122.40" y="233.40" font-size="8.0" text-anchor="start" fill="#111" stroke="#111" stroke-width="0.2">DHA 25 μM</text>
<line x1="114.90" y1="239.10" x2="120.20" y2="239.10" stroke="#ea4a4a" stroke-width="1.1"/>
<text x="122.40" y="241.90" font-size="8.0" text-anchor="start" fill="#111" stroke="#111" stroke-width="0.2">DHA 50 μM</text>
<line x1="114.90" y1="247.60" x2="120.20" y2="247.60" stroke="#e65252" stroke-width="1.1"/>
<text x="122.40" y="250.40" font-size="8.0" text-anchor="start" fill="#111" stroke="#111" stroke-width="0.2">DHA 75 μM</text>
<line x1="114.90" y1="256.20" x2="120.20" y2="256.20" stroke="#a32121" stroke-width="1.1"/>
<text x="122.40" y="259.00" font-size="8.0" text-anchor="start" fill="#111" stroke="#111" stroke-width="0.2">DHA 100 μM</text>
<line x1="212.00" y1="353.00" x2="335.70" y2="353.00" stroke="#3a3a3a" stroke-width="1.0"/>
<line x1="212.00" y1="353.00" x2="212.00" y2="211.40" stroke="#3a3a3a" stroke-width="1.0"/>
<line x1="209.00" y1="353.00" x2="212.00" y2="353.00" stroke="#3a3a3a" stroke-width="1.0"/>
<text x="204.50" y="355.90" font-size="9.4" text-anchor="end" fill="#111" stroke="#111" stroke-width="0.2">0</text>
<line x1="209.00" y1="324.68" x2="212.00" y2="324.68" stroke="#3a3a3a" stroke-width="1.0"/>
<text x="204.50" y="327.58" font-size="9.4" text-anchor="end" fill="#111" stroke="#111" stroke-width="0.2">25</text>
<line x1="209.00" y1="296.36" x2="212.00" y2="296.36" stroke="#3a3a3a" stroke-width="1.0"/>
<text x="204.50" y="299.26" font-size="9.4" text-anchor="end" fill="#111" stroke="#111" stroke-width="0.2">50</text>
<line x1="209.00" y1="268.04" x2="212.00" y2="268.04" stroke="#3a3a3a" stroke-width="1.0"/>
<text x="204.50" y="270.94" font-size="9.4" text-anchor="end" fill="#111" stroke="#111" stroke-width="0.2">75</text>
<line x1="209.00" y1="239.72" x2="212.00" y2="239.72" stroke="#3a3a3a" stroke-width="1.0"/>
<text x="204.50" y="242.62" font-size="9.4" text-anchor="end" fill="#111" stroke="#111" stroke-width="0.2">100</text>
<line x1="209.00" y1="211.40" x2="212.00" y2="211.40" stroke="#3a3a3a" stroke-width="1.0"/>
<text x="204.50" y="214.30" font-size="9.4" text-anchor="end" fill="#111" stroke="#111" stroke-width="0.2">125</text>
<line x1="212.00" y1="353.00" x2="212.00" y2="356.00" stroke="#3a3a3a" stroke-width="1.0"/>
<text x="212.00" y="365.40" font-size="9.4" text-anchor="middle" fill="#111" stroke="#111" stroke-width="0.2">-2.0</text>
<line x1="232.62" y1="353.00" x2="232.62" y2="356.00" stroke="#3a3a3a" stroke-width="1.0"/>
<text x="232.62" y="365.40" font-size="9.4" text-anchor="middle" fill="#111" stroke="#111" stroke-width="0.2">-1.5</text>
<line x1="253.23" y1="353.00" x2="253.23" y2="356.00" stroke="#3a3a3a" stroke-width="1.0"/>
<text x="253.23" y="365.40" font-size="9.4" text-anchor="middle" fill="#111" stroke="#111" stroke-width="0.2">-1.0</text>
<line x1="273.85" y1="353.00" x2="273.85" y2="356.00" stroke="#3a3a3a" stroke-width="1.0"/>
<text x="273.85" y="365.40" font-size="9.4" text-anchor="middle" fill="#111" stroke="#111" stroke-width="0.2">-0.5</text>
<line x1="294.47" y1="353.00" x2="294.47" y2="356.00" stroke="#3a3a3a" stroke-width="1.0"/>
<text x="294.47" y="365.40" font-size="9.4" text-anchor="middle" fill="#111" stroke="#111" stroke-width="0.2">0</text>
<line x1="315.08" y1="353.00" x2="315.08" y2="356.00" stroke="#3a3a3a" stroke-width="1.0"/>
<text x="315.08" y="365.40" font-size="9.4" text-anchor="middle" fill="#111" stroke="#111" stroke-width="0.2">0.5</text>
<line x1="335.70" y1="353.00" x2="335.70" y2="356.00" stroke="#3a3a3a" stroke-width="1.0"/>
<text x="335.70" y="365.40" font-size="9.4" text-anchor="middle" fill="#111" stroke="#111" stroke-width="0.2">1.0</text>
<text x="272.15" y="376.20" font-size="9.6" text-anchor="middle" fill="#111" stroke="#111" stroke-width="0.2">Log [OXA] (μM)</text>
<text x="185.30" y="283.80" font-size="9.6" text-anchor="middle" fill="#111" stroke="#111" stroke-width="0.2" transform="rotate(-90 185.30 283.80)">Normalized cell viability (%)</text>
<path d="M231.67,239.12 C234.42,239.36 237.17,239.66 239.92,240.05 C242.67,240.44 245.42,240.93 248.17,241.58 C250.92,242.23 253.66,243.04 256.41,244.09 C259.16,245.14 261.91,246.44 264.66,248.10 C267.41,249.76 270.16,251.80 272.91,254.32 C275.66,256.85 278.40,259.89 281.15,263.51 C283.90,267.13 286.65,271.34 289.40,276.10 C292.15,280.85 294.90,286.15 297.65,291.74 C300.40,297.33 303.14,303.20 305.89,308.96 C308.64,314.72 311.39,320.37 314.14,325.56" fill="none" stroke="#c8f2c0" stroke-width="1.0"/>
<circle cx="231.67" cy="239.90" r="1.65" fill="#fff" stroke="#c8f2c0" stroke-width="1.0"/>
<circle cx="253.23" cy="241.60" r="1.65" fill="#fff" stroke="#c8f2c0" stroke-width="1.0"/>
<circle cx="272.91" cy="255.10" r="1.65" fill="#fff" stroke="#c8f2c0" stroke-width="1.0"/>
<circle cx="294.47" cy="285.20" r="1.65" fill="#fff" stroke="#c8f2c0" stroke-width="1.0"/>
<circle cx="314.14" cy="325.60" r="1.65" fill="#fff" stroke="#c8f2c0" stroke-width="1.0"/>
<path d="M231.67,239.48 C234.42,239.96 237.17,240.53 239.92,241.20 C242.67,241.87 245.42,242.65 248.17,243.57 C250.92,244.50 253.66,245.57 256.41,246.84 C259.16,248.11 261.91,249.58 264.66,251.31 C267.41,253.03 270.16,255.01 272.91,257.32 C275.66,259.63 278.40,262.27 281.15,265.31 C283.90,268.34 286.65,271.78 289.40,275.67 C292.15,279.57 294.90,283.92 297.65,288.77 C300.40,293.62 303.14,298.95 305.89,304.76 C308.64,310.56 311.39,316.82 314.14,323.46" fill="none" stroke="#a6ee98" stroke-width="1.0"/>
<circle cx="231.67" cy="240.00" r="1.65" fill="#fff" stroke="#a6ee98" stroke-width="1.0"/>
<circle cx="253.23" cy="244.30" r="1.65" fill="#fff" stroke="#a6ee98" stroke-width="1.0"/>
<circle cx="272.91" cy="258.20" r="1.65" fill="#fff" stroke="#a6ee98" stroke-width="1.0"/>
<circle cx="294.47" cy="283.10" r="1.65" fill="#fff" stroke="#a6ee98" stroke-width="1.0"/>
<circle cx="314.14" cy="323.50" r="1.65" fill="#fff" stroke="#a6ee98" stroke-width="1.0"/>
<path d="M231.67,249.71 C234.42,250.06 237.17,250.46 239.92,250.94 C242.67,251.41 245.42,251.97 248.17,252.62 C250.92,253.27 253.66,254.03 256.41,254.92 C259.16,255.82 261.91,256.86 264.66,258.08 C267.41,259.31 270.16,260.73 272.91,262.42 C275.66,264.10 278.40,266.05 281.15,268.36 C283.90,270.67 286.65,273.34 289.40,276.51 C292.15,279.67 294.90,283.33 297.65,287.67 C300.40,292.02 303.14,297.04 305.89,302.99 C308.64,308.94 311.39,315.82 314.14,323.98" fill="none" stroke="#55dd3d" stroke-width="1.0"/>
<circle cx="231.67" cy="248.90" r="1.65" fill="#fff" stroke="#55dd3d" stroke-width="1.0"/>
<circle cx="253.23" cy="254.50" r="1.65" fill="#fff" stroke="#55dd3d" stroke-width="1.0"/>
<circle cx="272.91" cy="263.40" r="1.65" fill="#fff" stroke="#55dd3d" stroke-width="1.0"/>
<circle cx="294.47" cy="282.00" r="1.65" fill="#fff" stroke="#55dd3d" stroke-width="1.0"/>
<circle cx="314.14" cy="324.20" r="1.65" fill="#fff" stroke="#55dd3d" stroke-width="1.0"/>
<path d="M231.67,277.15 C234.42,277.22 237.17,277.31 239.92,277.44 C242.67,277.57 245.42,277.73 248.17,277.97 C250.92,278.21 253.66,278.53 256.41,278.97 C259.16,279.42 261.91,280.00 264.66,280.80 C267.41,281.60 270.16,282.63 272.91,284.00 C275.66,285.37 278.40,287.09 281.15,289.24 C283.90,291.38 286.65,293.95 289.40,296.88 C292.15,299.80 294.90,303.07 297.65,306.38 C300.40,309.70 303.14,313.05 305.89,316.10 C308.64,319.16 311.39,321.92 314.14,324.25" fill="none" stroke="#44c534" stroke-width="1.0"/>
<circle cx="231.67" cy="275.80" r="1.65" fill="#fff" stroke="#44c534" stroke-width="1.0"/>
<circle cx="253.23" cy="280.60" r="1.65" fill="#fff" stroke="#44c534" stroke-width="1.0"/>
<circle cx="272.91" cy="283.10" r="1.65" fill="#fff" stroke="#44c534" stroke-width="1.0"/>
<circle cx="294.47" cy="302.80" r="1.65" fill="#fff" stroke="#44c534" stroke-width="1.0"/>
<circle cx="314.14" cy="324.20" r="1.65" fill="#fff" stroke="#44c534" stroke-width="1.0"/>
<path d="M231.67,312.53 C234.42,312.54 237.17,312.56 239.92,312.58 C242.67,312.61 245.42,312.64 248.17,312.70 C250.92,312.76 253.66,312.85 256.41,312.99 C259.16,313.13 261.91,313.33 264.66,313.66 C267.41,313.99 270.16,314.44 272.91,315.14 C275.66,315.83 278.40,316.78 281.15,318.05 C283.90,319.32 286.65,320.94 289.40,322.73 C292.15,324.51 294.90,326.45 297.65,328.20 C300.40,329.94 303.14,331.48 305.89,332.67 C308.64,333.86 311.39,334.73 314.14,335.37" fill="none" stroke="#3f9a36" stroke-width="1.0"/>
<circle cx="231.67" cy="314.20" r="1.65" fill="#fff" stroke="#3f9a36" stroke-width="1.0"/>
<circle cx="253.23" cy="310.70" r="1.65" fill="#fff" stroke="#3f9a36" stroke-width="1.0"/>
<circle cx="272.91" cy="315.70" r="1.65" fill="#fff" stroke="#3f9a36" stroke-width="1.0"/>
<circle cx="294.47" cy="326.00" r="1.65" fill="#fff" stroke="#3f9a36" stroke-width="1.0"/>
<circle cx="314.14" cy="335.40" r="1.65" fill="#fff" stroke="#3f9a36" stroke-width="1.0"/>
<path d="M231.67,333.64 C234.42,333.69 237.17,333.76 239.92,333.84 C242.67,333.92 245.42,334.01 248.17,334.11 C250.92,334.22 253.66,334.34 256.41,334.48 C259.16,334.62 261.91,334.77 264.66,334.96 C267.41,335.14 270.16,335.35 272.91,335.59 C275.66,335.84 278.40,336.12 281.15,336.44 C283.90,336.76 286.65,337.13 289.40,337.56 C292.15,337.99 294.90,338.48 297.65,339.04 C300.40,339.61 303.14,340.26 305.89,341.01 C308.64,341.77 311.39,342.63 314.14,343.62" fill="none" stroke="#2f6e2c" stroke-width="1.0"/>
<circle cx="231.67" cy="333.50" r="1.65" fill="#fff" stroke="#2f6e2c" stroke-width="1.0"/>
<circle cx="253.23" cy="334.30" r="1.65" fill="#fff" stroke="#2f6e2c" stroke-width="1.0"/>
<circle cx="272.91" cy="336.00" r="1.65" fill="#fff" stroke="#2f6e2c" stroke-width="1.0"/>
<circle cx="294.47" cy="338.10" r="1.65" fill="#fff" stroke="#2f6e2c" stroke-width="1.0"/>
<circle cx="314.14" cy="343.70" r="1.65" fill="#fff" stroke="#2f6e2c" stroke-width="1.0"/>
<text x="217.70" y="209.50" font-size="9.6" text-anchor="start" fill="#111" stroke="#111" stroke-width="0.2">Colo320</text>
<line x1="289.40" y1="214.30" x2="294.70" y2="214.30" stroke="#c8f2c0" stroke-width="1.1"/>
<text x="297.30" y="217.10" font-size="8.0" text-anchor="start" fill="#111" stroke="#111" stroke-width="0.2">DHA 5 μM</text>
<line x1="289.40" y1="222.70" x2="294.70" y2="222.70" stroke="#a6ee98" stroke-width="1.1"/>
<text x="297.30" y="225.50" font-size="8.0" text-anchor="start" fill="#111" stroke="#111" stroke-width="0.2">DHA 10 μM</text>
<line x1="289.40" y1="231.00" x2="294.70" y2="231.00" stroke="#55dd3d" stroke-width="1.1"/>
<text x="297.30" y="233.80" font-size="8.0" text-anchor="start" fill="#111" stroke="#111" stroke-width="0.2">DHA 25 μM</text>
<line x1="289.40" y1="239.40" x2="294.70" y2="239.40" stroke="#44c534" stroke-width="1.1"/>
<text x="297.30" y="242.20" font-size="8.0" text-anchor="start" fill="#111" stroke="#111" stroke-width="0.2">DHA 50 μM</text>
<line x1="289.40" y1="247.80" x2="294.70" y2="247.80" stroke="#3f9a36" stroke-width="1.1"/>
<text x="297.30" y="250.60" font-size="8.0" text-anchor="start" fill="#111" stroke="#111" stroke-width="0.2">DHA 75 μM</text>
<line x1="289.40" y1="256.20" x2="294.70" y2="256.20" stroke="#2f6e2c" stroke-width="1.1"/>
<text x="297.30" y="259.00" font-size="8.0" text-anchor="start" fill="#111" stroke="#111" stroke-width="0.2">DHA 100 μM</text>
<line x1="384.00" y1="352.40" x2="506.10" y2="352.40" stroke="#3a3a3a" stroke-width="1.0"/>
<line x1="384.00" y1="352.40" x2="384.00" y2="211.40" stroke="#3a3a3a" stroke-width="1.0"/>
<line x1="381.00" y1="352.40" x2="384.00" y2="352.40" stroke="#3a3a3a" stroke-width="1.0"/>
<text x="376.50" y="355.30" font-size="9.4" text-anchor="end" fill="#111" stroke="#111" stroke-width="0.2">0</text>
<line x1="381.00" y1="324.20" x2="384.00" y2="324.20" stroke="#3a3a3a" stroke-width="1.0"/>
<text x="376.50" y="327.10" font-size="9.4" text-anchor="end" fill="#111" stroke="#111" stroke-width="0.2">25</text>
<line x1="381.00" y1="296.00" x2="384.00" y2="296.00" stroke="#3a3a3a" stroke-width="1.0"/>
<text x="376.50" y="298.90" font-size="9.4" text-anchor="end" fill="#111" stroke="#111" stroke-width="0.2">50</text>
<line x1="381.00" y1="267.80" x2="384.00" y2="267.80" stroke="#3a3a3a" stroke-width="1.0"/>
<text x="376.50" y="270.70" font-size="9.4" text-anchor="end" fill="#111" stroke="#111" stroke-width="0.2">75</text>
<line x1="381.00" y1="239.60" x2="384.00" y2="239.60" stroke="#3a3a3a" stroke-width="1.0"/>
<text x="376.50" y="242.50" font-size="9.4" text-anchor="end" fill="#111" stroke="#111" stroke-width="0.2">100</text>
<line x1="381.00" y1="211.40" x2="384.00" y2="211.40" stroke="#3a3a3a" stroke-width="1.0"/>
<text x="376.50" y="214.30" font-size="9.4" text-anchor="end" fill="#111" stroke="#111" stroke-width="0.2">125</text>
<line x1="384.00" y1="352.40" x2="384.00" y2="355.40" stroke="#3a3a3a" stroke-width="1.0"/>
<text x="384.00" y="364.80" font-size="9.4" text-anchor="middle" fill="#111" stroke="#111" stroke-width="0.2">-2.0</text>
<line x1="414.52" y1="352.40" x2="414.52" y2="355.40" stroke="#3a3a3a" stroke-width="1.0"/>
<text x="414.52" y="364.80" font-size="9.4" text-anchor="middle" fill="#111" stroke="#111" stroke-width="0.2">-1.5</text>
<line x1="445.05" y1="352.40" x2="445.05" y2="355.40" stroke="#3a3a3a" stroke-width="1.0"/>
<text x="445.05" y="364.80" font-size="9.4" text-anchor="middle" fill="#111" stroke="#111" stroke-width="0.2">-1.0</text>
<line x1="475.58" y1="352.40" x2="475.58" y2="355.40" stroke="#3a3a3a" stroke-width="1.0"/>
<text x="475.58" y="364.80" font-size="9.4" text-anchor="middle" fill="#111" stroke="#111" stroke-width="0.2">-0.5</text>
<line x1="506.10" y1="352.40" x2="506.10" y2="355.40" stroke="#3a3a3a" stroke-width="1.0"/>
<text x="506.10" y="364.80" font-size="9.4" text-anchor="middle" fill="#111" stroke="#111" stroke-width="0.2">0</text>
<text x="443.35" y="375.60" font-size="9.6" text-anchor="middle" fill="#111" stroke="#111" stroke-width="0.2">Log [OXA] (μM)</text>
<text x="357.30" y="283.50" font-size="9.6" text-anchor="middle" fill="#111" stroke="#111" stroke-width="0.2" transform="rotate(-90 357.30 283.50)">Normalized cell viability (%)</text>
<path d="M413.13,240.22 C416.23,240.56 419.33,240.97 422.43,241.50 C425.52,242.03 428.62,242.68 431.72,243.49 C434.82,244.31 437.92,245.30 441.02,246.54 C444.12,247.77 447.22,249.26 450.32,251.07 C453.42,252.89 456.52,255.04 459.61,257.58 C462.71,260.13 465.81,263.07 468.91,266.43 C472.01,269.78 475.11,273.54 478.21,277.60 C481.31,281.66 484.41,286.03 487.51,290.48 C490.60,294.94 493.70,299.49 496.80,303.87 C499.90,308.26 503.00,312.48 506.10,316.35" fill="none" stroke="#a0a0f0" stroke-width="1.0"/>
<path d="M413.13,231.70 C416.23,231.84 419.33,232.03 422.43,232.32 C425.52,232.60 428.62,232.99 431.72,233.57 C434.82,234.15 437.92,234.93 441.02,236.07 C444.12,237.22 447.22,238.73 450.32,240.85 C453.42,242.96 456.52,245.70 459.61,249.24 C462.71,252.77 465.81,257.12 468.91,262.08 C472.01,267.03 475.11,272.59 478.21,278.07 C481.31,283.55 484.41,288.91 487.51,293.58 C490.60,298.24 493.70,302.20 496.80,305.37 C499.90,308.54 503.00,310.94 506.10,312.78" fill="none" stroke="#6a6af0" stroke-width="1.0"/>
<path d="M413.13,230.77 C416.23,230.77 419.33,230.77 422.43,230.78 C425.52,230.78 428.62,230.79 431.72,230.81 C434.82,230.83 437.92,230.85 441.02,230.94 C444.12,231.04 447.22,231.17 450.32,231.61 C453.42,232.04 456.52,232.71 459.61,234.65 C462.71,236.59 465.81,239.93 468.91,246.47 C472.01,253.01 475.11,263.25 478.21,273.04 C481.31,282.83 484.41,290.97 487.51,295.75 C490.60,300.52 493.70,302.60 496.80,303.85 C499.90,305.10 503.00,305.51 506.10,305.78" fill="none" stroke="#4d4df0" stroke-width="1.0"/>
<path d="M413.13,225.80 C416.23,225.83 419.33,225.87 422.43,225.94 C425.52,226.00 428.62,226.10 431.72,226.28 C434.82,226.46 437.92,226.72 441.02,227.17 C444.12,227.63 447.22,228.27 450.32,229.39 C453.42,230.51 456.52,232.09 459.61,234.63 C462.71,237.16 465.81,240.69 468.91,245.53 C472.01,250.37 475.11,256.56 478.21,263.27 C481.31,269.98 484.41,277.07 487.51,283.13 C490.60,289.19 493.70,294.17 496.80,297.86 C499.90,301.55 503.00,304.04 506.10,305.80" fill="none" stroke="#2f2fe0" stroke-width="1.0"/>
<path d="M413.13,235.90 C416.23,236.35 419.33,236.90 422.43,237.62 C425.52,238.33 428.62,239.21 431.72,240.33 C434.82,241.45 437.92,242.82 441.02,244.51 C444.12,246.21 447.22,248.24 450.32,250.67 C453.42,253.11 456.52,255.94 459.61,259.18 C462.71,262.41 465.81,266.04 468.91,269.92 C472.01,273.81 475.11,277.94 478.21,282.08 C481.31,286.22 484.41,290.35 487.51,294.22 C490.60,298.10 493.70,301.72 496.80,304.94 C499.90,308.16 503.00,310.99 506.10,313.41" fill="none" stroke="#343490" stroke-width="1.0"/>
<circle cx="413.13" cy="239.70" r="1.65" fill="#fff" stroke="#a0a0f0" stroke-width="1.0"/>
<circle cx="445.05" cy="249.20" r="1.65" fill="#fff" stroke="#a0a0f0" stroke-width="1.0"/>
<circle cx="474.18" cy="272.00" r="1.65" fill="#fff" stroke="#a0a0f0" stroke-width="1.0"/>
<circle cx="506.10" cy="316.60" r="1.65" fill="#fff" stroke="#a0a0f0" stroke-width="1.0"/>
<circle cx="413.13" cy="231.70" r="1.65" fill="#fff" stroke="#6a6af0" stroke-width="1.0"/>
<circle cx="445.05" cy="237.80" r="1.65" fill="#fff" stroke="#6a6af0" stroke-width="1.0"/>
<circle cx="474.18" cy="271.00" r="1.65" fill="#fff" stroke="#6a6af0" stroke-width="1.0"/>
<circle cx="506.10" cy="312.80" r="1.65" fill="#fff" stroke="#6a6af0" stroke-width="1.0"/>
<circle cx="413.13" cy="230.80" r="1.65" fill="#fff" stroke="#4d4df0" stroke-width="1.0"/>
<circle cx="445.05" cy="230.80" r="1.65" fill="#fff" stroke="#4d4df0" stroke-width="1.0"/>
<circle cx="474.18" cy="257.70" r="1.65" fill="#fff" stroke="#4d4df0" stroke-width="1.0"/>
<circle cx="506.10" cy="306.20" r="1.65" fill="#fff" stroke="#4d4df0" stroke-width="1.0"/>
<circle cx="413.13" cy="225.80" r="1.65" fill="#fff" stroke="#2f2fe0" stroke-width="1.0"/>
<circle cx="445.05" cy="227.90" r="1.65" fill="#fff" stroke="#2f2fe0" stroke-width="1.0"/>
<circle cx="474.18" cy="254.90" r="1.65" fill="#fff" stroke="#2f2fe0" stroke-width="1.0"/>
<circle cx="506.10" cy="305.80" r="1.65" fill="#fff" stroke="#2f2fe0" stroke-width="1.0"/>
<circle cx="413.13" cy="235.90" r="1.65" fill="#fff" stroke="#343490" stroke-width="1.0"/>
<circle cx="445.05" cy="246.90" r="1.65" fill="#fff" stroke="#343490" stroke-width="1.0"/>
<circle cx="474.18" cy="276.70" r="1.65" fill="#fff" stroke="#343490" stroke-width="1.0"/>
<circle cx="506.10" cy="313.40" r="1.65" fill="#fff" stroke="#343490" stroke-width="1.0"/>
<text x="390.00" y="209.00" font-size="9.6" text-anchor="start" fill="#111" stroke="#111" stroke-width="0.2">SW48</text>
<line x1="388.10" y1="308.60" x2="393.40" y2="308.60" stroke="#a0a0f0" stroke-width="1.1"/>
<text x="395.50" y="311.40" font-size="8.0" text-anchor="start" fill="#111" stroke="#111" stroke-width="0.2">DHA 5 μM</text>
<line x1="388.10" y1="317.40" x2="393.40" y2="317.40" stroke="#6a6af0" stroke-width="1.1"/>
<text x="395.50" y="320.20" font-size="8.0" text-anchor="start" fill="#111" stroke="#111" stroke-width="0.2">DHA 10 μM</text>
<line x1="388.10" y1="326.20" x2="393.40" y2="326.20" stroke="#4d4df0" stroke-width="1.1"/>
<text x="395.50" y="329.00" font-size="8.0" text-anchor="start" fill="#111" stroke="#111" stroke-width="0.2">DHA 25 μM</text>
<line x1="388.10" y1="335.00" x2="393.40" y2="335.00" stroke="#2f2fe0" stroke-width="1.1"/>
<text x="395.50" y="337.80" font-size="8.0" text-anchor="start" fill="#111" stroke="#111" stroke-width="0.2">DHA 50 μM</text>
<line x1="388.10" y1="343.80" x2="393.40" y2="343.80" stroke="#343490" stroke-width="1.1"/>
<text x="395.50" y="346.60" font-size="8.0" text-anchor="start" fill="#111" stroke="#111" stroke-width="0.2">DHA 75 μM</text>
<line x1="40.40" y1="552.40" x2="162.40" y2="552.40" stroke="#3a3a3a" stroke-width="1.0"/>
<line x1="40.40" y1="552.40" x2="40.40" y2="410.40" stroke="#3a3a3a" stroke-width="1.0"/>
<line x1="37.40" y1="552.40" x2="40.40" y2="552.40" stroke="#3a3a3a" stroke-width="1.0"/>
<text x="32.90" y="555.30" font-size="9.4" text-anchor="end" fill="#111" stroke="#111" stroke-width="0.2">0</text>
<line x1="37.40" y1="524.00" x2="40.40" y2="524.00" stroke="#3a3a3a" stroke-width="1.0"/>
<text x="32.90" y="526.90" font-size="9.4" text-anchor="end" fill="#111" stroke="#111" stroke-width="0.2">25</text>
<line x1="37.40" y1="495.60" x2="40.40" y2="495.60" stroke="#3a3a3a" stroke-width="1.0"/>
<text x="32.90" y="498.50" font-size="9.4" text-anchor="end" fill="#111" stroke="#111" stroke-width="0.2">50</text>
<line x1="37.40" y1="467.20" x2="40.40" y2="467.20" stroke="#3a3a3a" stroke-width="1.0"/>
<text x="32.90" y="470.10" font-size="9.4" text-anchor="end" fill="#111" stroke="#111" stroke-width="0.2">75</text>
<line x1="37.40" y1="438.80" x2="40.40" y2="438.80" stroke="#3a3a3a" stroke-width="1.0"/>
<text x="32.90" y="441.70" font-size="9.4" text-anchor="end" fill="#111" stroke="#111" stroke-width="0.2">100</text>
<line x1="37.40" y1="410.40" x2="40.40" y2="410.40" stroke="#3a3a3a" stroke-width="1.0"/>
<text x="32.90" y="413.30" font-size="9.4" text-anchor="end" fill="#111" stroke="#111" stroke-width="0.2">125</text>
<line x1="40.40" y1="552.40" x2="40.40" y2="555.40" stroke="#3a3a3a" stroke-width="1.0"/>
<text x="40.40" y="564.80" font-size="9.4" text-anchor="middle" fill="#111" stroke="#111" stroke-width="0.2">-1.6</text>
<line x1="70.90" y1="552.40" x2="70.90" y2="555.40" stroke="#3a3a3a" stroke-width="1.0"/>
<text x="70.90" y="564.80" font-size="9.4" text-anchor="middle" fill="#111" stroke="#111" stroke-width="0.2">-1.2</text>
<line x1="101.40" y1="552.40" x2="101.40" y2="555.40" stroke="#3a3a3a" stroke-width="1.0"/>
<text x="101.40" y="564.80" font-size="9.4" text-anchor="middle" fill="#111" stroke="#111" stroke-width="0.2">-0.8</text>
<line x1="131.90" y1="552.40" x2="131.90" y2="555.40" stroke="#3a3a3a" stroke-width="1.0"/>
<text x="131.90" y="564.80" font-size="9.4" text-anchor="middle" fill="#111" stroke="#111" stroke-width="0.2">-0.4</text>
<line x1="162.40" y1="552.40" x2="162.40" y2="555.40" stroke="#3a3a3a" stroke-width="1.0"/>
<text x="162.40" y="564.80" font-size="9.4" text-anchor="middle" fill="#111" stroke="#111" stroke-width="0.2">0</text>
<text x="99.70" y="575.60" font-size="9.6" text-anchor="middle" fill="#111" stroke="#111" stroke-width="0.2">Log [Doxo] (μM)</text>
<text x="13.70" y="483.00" font-size="9.6" text-anchor="middle" fill="#111" stroke="#111" stroke-width="0.2" transform="rotate(-90 13.70 483.00)">Normalized cell viability (%)</text>
<path d="M46.28,440.21 C50.15,440.70 54.02,441.27 57.89,441.93 C61.76,442.59 65.63,443.34 69.50,444.22 C73.38,445.09 77.25,446.09 81.12,447.25 C84.99,448.41 88.86,449.74 92.73,451.28 C96.60,452.82 100.47,454.58 104.34,456.63 C108.21,458.67 112.08,461.01 115.95,463.72 C119.82,466.44 123.69,469.54 127.56,473.15 C131.43,476.75 135.31,480.87 139.18,485.65 C143.05,490.44 146.92,495.90 150.79,502.26 C154.66,508.61 158.53,515.86 162.40,524.29" fill="none" stroke="#3b3bf5" stroke-width="1.0"/>
<path d="M46.28,461.07 C50.15,462.18 54.02,463.55 57.89,465.25 C61.76,466.95 65.63,468.99 69.50,471.42 C73.38,473.84 77.25,476.65 81.12,479.78 C84.99,482.91 88.86,486.36 92.73,489.92 C96.60,493.49 100.47,497.16 104.34,500.68 C108.21,504.19 112.08,507.55 115.95,510.57 C119.82,513.59 123.69,516.27 127.56,518.56 C131.43,520.85 135.31,522.76 139.18,524.35 C143.05,525.94 146.92,527.21 150.79,528.24 C154.66,529.27 158.53,530.06 162.40,530.70" fill="none" stroke="#f03c3c" stroke-width="1.0"/>
<line x1="46.28" y1="459.70" x2="46.28" y2="462.43" stroke="#f03c3c" stroke-width="0.9"/>
<line x1="44.28" y1="459.70" x2="48.28" y2="459.70" stroke="#f03c3c" stroke-width="0.9"/>
<line x1="44.28" y1="462.43" x2="48.28" y2="462.43" stroke="#f03c3c" stroke-width="0.9"/>
<circle cx="46.28" cy="461.07" r="1.65" fill="#fff" stroke="#f03c3c" stroke-width="1.0"/>
<circle cx="86.15" cy="484.01" r="1.65" fill="#fff" stroke="#f03c3c" stroke-width="1.0"/>
<circle cx="122.53" cy="515.37" r="1.65" fill="#fff" stroke="#f03c3c" stroke-width="1.0"/>
<circle cx="162.40" cy="530.70" r="1.65" fill="#fff" stroke="#f03c3c" stroke-width="1.0"/>
<line x1="46.28" y1="435.96" x2="46.28" y2="442.32" stroke="#3b3bf5" stroke-width="0.9"/>
<line x1="44.28" y1="435.96" x2="48.28" y2="435.96" stroke="#3b3bf5" stroke-width="0.9"/>
<line x1="44.28" y1="442.32" x2="48.28" y2="442.32" stroke="#3b3bf5" stroke-width="0.9"/>
<circle cx="46.28" cy="439.14" r="1.65" fill="#fff" stroke="#3b3bf5" stroke-width="1.0"/>
<line x1="86.15" y1="449.71" x2="86.15" y2="451.98" stroke="#3b3bf5" stroke-width="0.9"/>
<line x1="84.15" y1="449.71" x2="88.15" y2="449.71" stroke="#3b3bf5" stroke-width="0.9"/>
<line x1="84.15" y1="451.98" x2="88.15" y2="451.98" stroke="#3b3bf5" stroke-width="0.9"/>
<circle cx="86.15" cy="450.84" r="1.65" fill="#fff" stroke="#3b3bf5" stroke-width="1.0"/>
<circle cx="122.53" cy="467.65" r="1.65" fill="#fff" stroke="#3b3bf5" stroke-width="1.0"/>
<line x1="162.40" y1="522.75" x2="162.40" y2="526.16" stroke="#3b3bf5" stroke-width="0.9"/>
<line x1="160.40" y1="522.75" x2="164.40" y2="522.75" stroke="#3b3bf5" stroke-width="0.9"/>
<line x1="160.40" y1="526.16" x2="164.40" y2="526.16" stroke="#3b3bf5" stroke-width="0.9"/>
<circle cx="162.40" cy="524.45" r="1.65" fill="#fff" stroke="#3b3bf5" stroke-width="1.0"/>
<line x1="43.90" y1="524.10" x2="50.10" y2="524.10" stroke="#3b3bf5" stroke-width="1.1"/>
<text x="52.10" y="526.90" font-size="7.65" text-anchor="start" fill="#111" stroke="#111" stroke-width="0.2">MCF7</text>
<line x1="43.90" y1="533.60" x2="50.10" y2="533.60" stroke="#f03c3c" stroke-width="1.1"/>
<text x="52.10" y="536.40" font-size="7.65" text-anchor="start" fill="#111" stroke="#111" stroke-width="0.2">MDA-MB-231</text>
<line x1="212.40" y1="552.40" x2="335.90" y2="552.40" stroke="#3a3a3a" stroke-width="1.0"/>
<line x1="212.40" y1="552.40" x2="212.40" y2="410.40" stroke="#3a3a3a" stroke-width="1.0"/>
<line x1="209.40" y1="552.40" x2="212.40" y2="552.40" stroke="#3a3a3a" stroke-width="1.0"/>
<text x="204.90" y="555.30" font-size="9.4" text-anchor="end" fill="#111" stroke="#111" stroke-width="0.2">0</text>
<line x1="209.40" y1="524.00" x2="212.40" y2="524.00" stroke="#3a3a3a" stroke-width="1.0"/>
<text x="204.90" y="526.90" font-size="9.4" text-anchor="end" fill="#111" stroke="#111" stroke-width="0.2">25</text>
<line x1="209.40" y1="495.60" x2="212.40" y2="495.60" stroke="#3a3a3a" stroke-width="1.0"/>
<text x="204.90" y="498.50" font-size="9.4" text-anchor="end" fill="#111" stroke="#111" stroke-width="0.2">50</text>
<line x1="209.40" y1="467.20" x2="212.40" y2="467.20" stroke="#3a3a3a" stroke-width="1.0"/>
<text x="204.90" y="470.10" font-size="9.4" text-anchor="end" fill="#111" stroke="#111" stroke-width="0.2">75</text>
<line x1="209.40" y1="438.80" x2="212.40" y2="438.80" stroke="#3a3a3a" stroke-width="1.0"/>
<text x="204.90" y="441.70" font-size="9.4" text-anchor="end" fill="#111" stroke="#111" stroke-width="0.2">100</text>
<line x1="209.40" y1="410.40" x2="212.40" y2="410.40" stroke="#3a3a3a" stroke-width="1.0"/>
<text x="204.90" y="413.30" font-size="9.4" text-anchor="end" fill="#111" stroke="#111" stroke-width="0.2">125</text>
<line x1="212.40" y1="552.40" x2="212.40" y2="555.40" stroke="#3a3a3a" stroke-width="1.0"/>
<text x="212.40" y="564.80" font-size="9.4" text-anchor="middle" fill="#111" stroke="#111" stroke-width="0.2">0.8</text>
<line x1="243.28" y1="552.40" x2="243.28" y2="555.40" stroke="#3a3a3a" stroke-width="1.0"/>
<text x="243.28" y="564.80" font-size="9.4" text-anchor="middle" fill="#111" stroke="#111" stroke-width="0.2">1.2</text>
<line x1="274.15" y1="552.40" x2="274.15" y2="555.40" stroke="#3a3a3a" stroke-width="1.0"/>
<text x="274.15" y="564.80" font-size="9.4" text-anchor="middle" fill="#111" stroke="#111" stroke-width="0.2">1.6</text>
<line x1="305.02" y1="552.40" x2="305.02" y2="555.40" stroke="#3a3a3a" stroke-width="1.0"/>
<text x="305.02" y="564.80" font-size="9.4" text-anchor="middle" fill="#111" stroke="#111" stroke-width="0.2">2.0</text>
<line x1="335.90" y1="552.40" x2="335.90" y2="555.40" stroke="#3a3a3a" stroke-width="1.0"/>
<text x="335.90" y="564.80" font-size="9.4" text-anchor="middle" fill="#111" stroke="#111" stroke-width="0.2">2.4</text>
<text x="272.45" y="575.60" font-size="9.6" text-anchor="middle" fill="#111" stroke="#111" stroke-width="0.2">Log [DHA] (μM)</text>
<text x="185.70" y="483.00" font-size="9.6" text-anchor="middle" fill="#111" stroke="#111" stroke-width="0.2" transform="rotate(-90 185.70 483.00)">Normalized cell viability (%)</text>
<path d="M227.84,424.58 C230.86,424.58 233.89,424.58 236.92,424.58 C239.94,424.58 242.97,424.58 245.99,424.58 C249.02,424.58 252.05,424.58 255.07,424.58 C258.10,424.58 261.12,424.58 264.15,424.58 C267.18,424.58 270.20,424.58 273.23,424.59 C276.25,424.60 279.28,424.61 282.31,424.67 C285.33,424.73 288.36,424.81 291.38,425.20 C294.41,425.59 297.44,426.39 300.46,427.82 C303.49,429.25 306.51,431.11 309.54,432.19 C312.57,433.27 315.59,433.69 318.62,433.91" fill="none" stroke="#3b3bf5" stroke-width="1.0"/>
<path d="M227.84,439.58 C230.86,439.67 233.89,439.77 236.92,439.89 C239.94,440.02 242.97,440.18 245.99,440.38 C249.02,440.58 252.05,440.82 255.07,441.14 C258.10,441.45 261.12,441.83 264.15,442.32 C267.18,442.81 270.20,443.41 273.23,444.17 C276.25,444.94 279.28,445.87 282.31,447.06 C285.33,448.26 288.36,449.72 291.38,451.59 C294.41,453.46 297.44,455.74 300.46,458.66 C303.49,461.58 306.51,465.14 309.54,469.71 C312.57,474.28 315.59,479.85 318.62,486.99" fill="none" stroke="#f03c3c" stroke-width="1.0"/>
<line x1="227.84" y1="434.94" x2="227.84" y2="439.48" stroke="#f03c3c" stroke-width="0.9"/>
<line x1="225.84" y1="434.94" x2="229.84" y2="434.94" stroke="#f03c3c" stroke-width="0.9"/>
<line x1="225.84" y1="439.48" x2="229.84" y2="439.48" stroke="#f03c3c" stroke-width="0.9"/>
<circle cx="227.84" cy="437.21" r="1.65" fill="#fff" stroke="#f03c3c" stroke-width="1.0"/>
<line x1="258.55" y1="441.30" x2="258.55" y2="444.71" stroke="#f03c3c" stroke-width="0.9"/>
<line x1="256.55" y1="441.30" x2="260.55" y2="441.30" stroke="#f03c3c" stroke-width="0.9"/>
<line x1="256.55" y1="444.71" x2="260.55" y2="444.71" stroke="#f03c3c" stroke-width="0.9"/>
<circle cx="258.55" cy="443.00" r="1.65" fill="#fff" stroke="#f03c3c" stroke-width="1.0"/>
<circle cx="281.79" cy="446.52" r="1.65" fill="#fff" stroke="#f03c3c" stroke-width="1.0"/>
<line x1="295.38" y1="454.48" x2="295.38" y2="457.88" stroke="#f03c3c" stroke-width="0.9"/>
<line x1="293.38" y1="454.48" x2="297.38" y2="454.48" stroke="#f03c3c" stroke-width="0.9"/>
<line x1="293.38" y1="457.88" x2="297.38" y2="457.88" stroke="#f03c3c" stroke-width="0.9"/>
<circle cx="295.38" cy="456.18" r="1.65" fill="#fff" stroke="#f03c3c" stroke-width="1.0"/>
<circle cx="305.02" cy="461.07" r="1.65" fill="#fff" stroke="#f03c3c" stroke-width="1.0"/>
<circle cx="318.62" cy="487.19" r="1.65" fill="#fff" stroke="#f03c3c" stroke-width="1.0"/>
<circle cx="227.84" cy="428.12" r="1.65" fill="#fff" stroke="#3b3bf5" stroke-width="1.0"/>
<line x1="258.55" y1="420.74" x2="258.55" y2="424.15" stroke="#3b3bf5" stroke-width="0.9"/>
<line x1="256.55" y1="420.74" x2="260.55" y2="420.74" stroke="#3b3bf5" stroke-width="0.9"/>
<line x1="256.55" y1="424.15" x2="260.55" y2="424.15" stroke="#3b3bf5" stroke-width="0.9"/>
<circle cx="258.55" cy="422.44" r="1.65" fill="#fff" stroke="#3b3bf5" stroke-width="1.0"/>
<circle cx="281.79" cy="422.90" r="1.65" fill="#fff" stroke="#3b3bf5" stroke-width="1.0"/>
<line x1="295.38" y1="424.26" x2="295.38" y2="427.67" stroke="#3b3bf5" stroke-width="0.9"/>
<line x1="293.38" y1="424.26" x2="297.38" y2="424.26" stroke="#3b3bf5" stroke-width="0.9"/>
<line x1="293.38" y1="427.67" x2="297.38" y2="427.67" stroke="#3b3bf5" stroke-width="0.9"/>
<circle cx="295.38" cy="425.96" r="1.65" fill="#fff" stroke="#3b3bf5" stroke-width="1.0"/>
<circle cx="305.02" cy="430.17" r="1.65" fill="#fff" stroke="#3b3bf5" stroke-width="1.0"/>
<circle cx="318.62" cy="433.92" r="1.65" fill="#fff" stroke="#3b3bf5" stroke-width="1.0"/>
<line x1="216.30" y1="522.60" x2="222.30" y2="522.60" stroke="#3b3bf5" stroke-width="1.1"/>
<text x="223.80" y="525.40" font-size="7.65" text-anchor="start" fill="#111" stroke="#111" stroke-width="0.2">MCF7</text>
<line x1="216.30" y1="532.30" x2="222.30" y2="532.30" stroke="#f03c3c" stroke-width="1.1"/>
<text x="223.80" y="535.10" font-size="7.65" text-anchor="start" fill="#111" stroke="#111" stroke-width="0.2">MDA-MB-231</text>
<text x="301.30" y="451.40" font-size="7.2" text-anchor="middle" letter-spacing="1.0" fill="#111" stroke="#111" stroke-width="0.25">***</text>
<text x="312.40" y="459.00" font-size="7.2" text-anchor="middle" letter-spacing="1.0" fill="#111" stroke="#111" stroke-width="0.25">****</text>
<text x="326.40" y="483.80" font-size="7.2" text-anchor="middle" letter-spacing="1.0" fill="#111" stroke="#111" stroke-width="0.25">****</text>
<line x1="383.50" y1="552.40" x2="507.30" y2="552.40" stroke="#3a3a3a" stroke-width="1.0"/>
<line x1="383.50" y1="552.40" x2="383.50" y2="410.40" stroke="#3a3a3a" stroke-width="1.0"/>
<line x1="380.50" y1="552.40" x2="383.50" y2="552.40" stroke="#3a3a3a" stroke-width="1.0"/>
<text x="376.00" y="555.30" font-size="9.4" text-anchor="end" fill="#111" stroke="#111" stroke-width="0.2">0</text>
<line x1="380.50" y1="516.90" x2="383.50" y2="516.90" stroke="#3a3a3a" stroke-width="1.0"/>
<text x="376.00" y="519.80" font-size="9.4" text-anchor="end" fill="#111" stroke="#111" stroke-width="0.2">25</text>
<line x1="380.50" y1="481.40" x2="383.50" y2="481.40" stroke="#3a3a3a" stroke-width="1.0"/>
<text x="376.00" y="484.30" font-size="9.4" text-anchor="end" fill="#111" stroke="#111" stroke-width="0.2">50</text>
<line x1="380.50" y1="445.90" x2="383.50" y2="445.90" stroke="#3a3a3a" stroke-width="1.0"/>
<text x="376.00" y="448.80" font-size="9.4" text-anchor="end" fill="#111" stroke="#111" stroke-width="0.2">75</text>
<line x1="380.50" y1="410.40" x2="383.50" y2="410.40" stroke="#3a3a3a" stroke-width="1.0"/>
<text x="376.00" y="413.30" font-size="9.4" text-anchor="end" fill="#111" stroke="#111" stroke-width="0.2">100</text>
<line x1="383.50" y1="552.40" x2="383.50" y2="555.40" stroke="#3a3a3a" stroke-width="1.0"/>
<text x="383.50" y="564.80" font-size="9.4" text-anchor="middle" fill="#111" stroke="#111" stroke-width="0.2">-1.6</text>
<line x1="408.26" y1="552.40" x2="408.26" y2="555.40" stroke="#3a3a3a" stroke-width="1.0"/>
<text x="408.26" y="564.80" font-size="9.4" text-anchor="middle" fill="#111" stroke="#111" stroke-width="0.2">-1.2</text>
<line x1="433.02" y1="552.40" x2="433.02" y2="555.40" stroke="#3a3a3a" stroke-width="1.0"/>
<text x="433.02" y="564.80" font-size="9.4" text-anchor="middle" fill="#111" stroke="#111" stroke-width="0.2">-0.8</text>
<line x1="457.78" y1="552.40" x2="457.78" y2="555.40" stroke="#3a3a3a" stroke-width="1.0"/>
<text x="457.78" y="564.80" font-size="9.4" text-anchor="middle" fill="#111" stroke="#111" stroke-width="0.2">-0.4</text>
<line x1="482.54" y1="552.40" x2="482.54" y2="555.40" stroke="#3a3a3a" stroke-width="1.0"/>
<text x="482.54" y="564.80" font-size="9.4" text-anchor="middle" fill="#111" stroke="#111" stroke-width="0.2">0</text>
<line x1="507.30" y1="552.40" x2="507.30" y2="555.40" stroke="#3a3a3a" stroke-width="1.0"/>
<text x="507.30" y="564.80" font-size="9.4" text-anchor="middle" fill="#111" stroke="#111" stroke-width="0.2">0.4</text>
<text x="443.70" y="575.60" font-size="9.6" text-anchor="middle" fill="#111" stroke="#111" stroke-width="0.2">Log [Doxo] (μM)</text>
<text x="356.80" y="483.00" font-size="9.6" text-anchor="middle" fill="#111" stroke="#111" stroke-width="0.2" transform="rotate(-90 356.80 483.00)">Normalized cell viability (%)</text>
<path d="M388.27,438.52 C391.42,440.69 394.56,443.10 397.70,445.77 C400.84,448.43 403.98,451.34 407.13,454.45 C410.27,457.57 413.41,460.89 416.55,464.35 C419.70,467.80 422.84,471.39 425.98,474.99 C429.12,478.59 432.26,482.21 435.41,485.74 C438.55,489.27 441.69,492.70 444.83,495.95 C447.98,499.20 451.12,502.26 454.26,505.08 C457.40,507.90 460.54,510.49 463.69,512.82 C466.83,515.16 469.97,517.25 473.11,519.10 C476.26,520.95 479.40,522.58 482.54,524.00" fill="none" stroke="#f7c4c4" stroke-width="1.0"/>
<path d="M388.27,442.35 C391.42,444.20 394.56,446.29 397.70,448.64 C400.84,450.98 403.98,453.58 407.13,456.42 C410.27,459.25 413.41,462.33 416.55,465.58 C419.70,468.83 422.84,472.26 425.98,475.76 C429.12,479.26 432.26,482.83 435.41,486.35 C438.55,489.87 441.69,493.35 444.83,496.66 C447.98,499.98 451.12,503.13 454.26,506.06 C457.40,508.99 460.54,511.69 463.69,514.13 C466.83,516.57 469.97,518.76 473.11,520.71 C476.26,522.65 479.40,524.35 482.54,525.85" fill="none" stroke="#f3a2a2" stroke-width="1.0"/>
<path d="M388.27,447.46 C391.42,449.01 394.56,450.75 397.70,452.70 C400.84,454.66 403.98,456.83 407.13,459.22 C410.27,461.60 413.41,464.21 416.55,467.01 C419.70,469.81 422.84,472.80 425.98,475.92 C429.12,479.04 432.26,482.29 435.41,485.58 C438.55,488.87 441.69,492.21 444.83,495.49 C447.98,498.77 451.12,501.99 454.26,505.08 C457.40,508.17 460.54,511.11 463.69,513.86 C466.83,516.61 469.97,519.16 473.11,521.49 C476.26,523.82 479.40,525.93 482.54,527.83" fill="none" stroke="#f07a7a" stroke-width="1.0"/>
<path d="M388.27,447.46 C391.42,449.16 394.56,451.04 397.70,453.13 C400.84,455.21 403.98,457.50 407.13,459.98 C410.27,462.46 413.41,465.13 416.55,467.97 C419.70,470.80 422.84,473.80 425.98,476.91 C429.12,480.02 432.26,483.23 435.41,486.46 C438.55,489.70 441.69,492.97 444.83,496.18 C447.98,499.39 451.12,502.54 454.26,505.57 C457.40,508.59 460.54,511.49 463.69,514.21 C466.83,516.93 469.97,519.48 473.11,521.82 C476.26,524.17 479.40,526.31 482.54,528.26" fill="none" stroke="#ee6a6a" stroke-width="1.0"/>
<path d="M388.27,462.94 C391.42,463.74 394.56,464.66 397.70,465.75 C400.84,466.85 403.98,468.11 407.13,469.57 C410.27,471.03 413.41,472.69 416.55,474.57 C419.70,476.45 422.84,478.55 425.98,480.87 C429.12,483.18 432.26,485.71 435.41,488.39 C438.55,491.08 441.69,493.92 444.83,496.84 C447.98,499.76 451.12,502.75 454.26,505.70 C457.40,508.64 460.54,511.55 463.69,514.32 C466.83,517.10 469.97,519.73 473.11,522.16 C476.26,524.59 479.40,526.82 482.54,528.83" fill="none" stroke="#ea3c3c" stroke-width="1.0"/>
<path d="M388.27,475.15 C391.42,475.66 394.56,476.27 397.70,476.99 C400.84,477.72 403.98,478.58 407.13,479.60 C410.27,480.62 413.41,481.80 416.55,483.18 C419.70,484.56 422.84,486.14 425.98,487.94 C429.12,489.73 432.26,491.74 435.41,493.95 C438.55,496.16 441.69,498.57 444.83,501.11 C447.98,503.65 451.12,506.33 454.26,509.04 C457.40,511.75 460.54,514.49 463.69,517.16 C466.83,519.82 469.97,522.40 473.11,524.82 C476.26,527.24 479.40,529.49 482.54,531.53" fill="none" stroke="#a83a3a" stroke-width="1.0"/>
<circle cx="388.27" cy="438.52" r="1.65" fill="#fff" stroke="#f7c4c4" stroke-width="1.0"/>
<circle cx="420.64" cy="468.90" r="1.65" fill="#fff" stroke="#f7c4c4" stroke-width="1.0"/>
<circle cx="450.17" cy="501.28" r="1.65" fill="#fff" stroke="#f7c4c4" stroke-width="1.0"/>
<circle cx="482.54" cy="524.00" r="1.65" fill="#fff" stroke="#f7c4c4" stroke-width="1.0"/>
<circle cx="388.27" cy="442.35" r="1.65" fill="#fff" stroke="#f3a2a2" stroke-width="1.0"/>
<circle cx="420.64" cy="469.90" r="1.65" fill="#fff" stroke="#f3a2a2" stroke-width="1.0"/>
<circle cx="450.17" cy="502.13" r="1.65" fill="#fff" stroke="#f3a2a2" stroke-width="1.0"/>
<circle cx="482.54" cy="525.85" r="1.65" fill="#fff" stroke="#f3a2a2" stroke-width="1.0"/>
<circle cx="388.27" cy="447.46" r="1.65" fill="#fff" stroke="#f07a7a" stroke-width="1.0"/>
<circle cx="420.64" cy="470.75" r="1.65" fill="#fff" stroke="#f07a7a" stroke-width="1.0"/>
<circle cx="450.17" cy="501.00" r="1.65" fill="#fff" stroke="#f07a7a" stroke-width="1.0"/>
<circle cx="482.54" cy="527.83" r="1.65" fill="#fff" stroke="#f07a7a" stroke-width="1.0"/>
<circle cx="388.27" cy="447.46" r="1.65" fill="#fff" stroke="#ee6a6a" stroke-width="1.0"/>
<circle cx="420.64" cy="471.74" r="1.65" fill="#fff" stroke="#ee6a6a" stroke-width="1.0"/>
<circle cx="450.17" cy="501.56" r="1.65" fill="#fff" stroke="#ee6a6a" stroke-width="1.0"/>
<circle cx="482.54" cy="528.26" r="1.65" fill="#fff" stroke="#ee6a6a" stroke-width="1.0"/>
<circle cx="388.27" cy="462.94" r="1.65" fill="#fff" stroke="#ea3c3c" stroke-width="1.0"/>
<circle cx="420.64" cy="477.14" r="1.65" fill="#fff" stroke="#ea3c3c" stroke-width="1.0"/>
<circle cx="450.17" cy="501.85" r="1.65" fill="#fff" stroke="#ea3c3c" stroke-width="1.0"/>
<circle cx="482.54" cy="528.83" r="1.65" fill="#fff" stroke="#ea3c3c" stroke-width="1.0"/>
<circle cx="388.27" cy="475.15" r="1.65" fill="#fff" stroke="#a83a3a" stroke-width="1.0"/>
<circle cx="420.64" cy="485.09" r="1.65" fill="#fff" stroke="#a83a3a" stroke-width="1.0"/>
<circle cx="450.17" cy="505.54" r="1.65" fill="#fff" stroke="#a83a3a" stroke-width="1.0"/>
<circle cx="482.54" cy="531.53" r="1.65" fill="#fff" stroke="#a83a3a" stroke-width="1.0"/>
<text x="390.80" y="408.70" font-size="9.3" text-anchor="start" fill="#111" stroke="#111" stroke-width="0.2">MDA-MB-231</text>
<line x1="461.40" y1="413.10" x2="466.70" y2="413.10" stroke="#f7c4c4" stroke-width="1.1"/>
<text x="468.80" y="415.90" font-size="8.0" text-anchor="start" fill="#111" stroke="#111" stroke-width="0.2">DHA 5 μM</text>
<line x1="461.40" y1="421.70" x2="466.70" y2="421.70" stroke="#f3a2a2" stroke-width="1.1"/>
<text x="468.80" y="424.50" font-size="8.0" text-anchor="start" fill="#111" stroke="#111" stroke-width="0.2">DHA 25 μM</text>
<line x1="461.40" y1="430.40" x2="466.70" y2="430.40" stroke="#f07a7a" stroke-width="1.1"/>
<text x="468.80" y="433.20" font-size="8.0" text-anchor="start" fill="#111" stroke="#111" stroke-width="0.2">DHA 50 μM</text>
<line x1="461.40" y1="439.00" x2="466.70" y2="439.00" stroke="#ee6a6a" stroke-width="1.1"/>
<text x="468.80" y="441.80" font-size="8.0" text-anchor="start" fill="#111" stroke="#111" stroke-width="0.2">DHA 75 μM</text>
<line x1="461.40" y1="447.60" x2="466.70" y2="447.60" stroke="#ea3c3c" stroke-width="1.1"/>
<text x="468.80" y="450.40" font-size="8.0" text-anchor="start" fill="#111" stroke="#111" stroke-width="0.2">DHA 100 μM</text>
<line x1="461.40" y1="456.00" x2="466.70" y2="456.00" stroke="#a83a3a" stroke-width="1.1"/>
<text x="468.80" y="458.80" font-size="8.0" text-anchor="start" fill="#111" stroke="#111" stroke-width="0.2">DHA 150 μM</text>
<line x1="555.00" y1="552.40" x2="676.30" y2="552.40" stroke="#3a3a3a" stroke-width="1.0"/>
<line x1="555.00" y1="552.40" x2="555.00" y2="410.70" stroke="#3a3a3a" stroke-width="1.0"/>
<line x1="552.00" y1="552.40" x2="555.00" y2="552.40" stroke="#3a3a3a" stroke-width="1.0"/>
<text x="547.50" y="555.30" font-size="9.4" text-anchor="end" fill="#111" stroke="#111" stroke-width="0.2">0</text>
<line x1="552.00" y1="524.06" x2="555.00" y2="524.06" stroke="#3a3a3a" stroke-width="1.0"/>
<text x="547.50" y="526.96" font-size="9.4" text-anchor="end" fill="#111" stroke="#111" stroke-width="0.2">25</text>
<line x1="552.00" y1="495.72" x2="555.00" y2="495.72" stroke="#3a3a3a" stroke-width="1.0"/>
<text x="547.50" y="498.62" font-size="9.4" text-anchor="end" fill="#111" stroke="#111" stroke-width="0.2">50</text>
<line x1="552.00" y1="467.38" x2="555.00" y2="467.38" stroke="#3a3a3a" stroke-width="1.0"/>
<text x="547.50" y="470.28" font-size="9.4" text-anchor="end" fill="#111" stroke="#111" stroke-width="0.2">75</text>
<line x1="552.00" y1="439.04" x2="555.00" y2="439.04" stroke="#3a3a3a" stroke-width="1.0"/>
<text x="547.50" y="441.94" font-size="9.4" text-anchor="end" fill="#111" stroke="#111" stroke-width="0.2">100</text>
<line x1="552.00" y1="410.70" x2="555.00" y2="410.70" stroke="#3a3a3a" stroke-width="1.0"/>
<text x="547.50" y="413.60" font-size="9.4" text-anchor="end" fill="#111" stroke="#111" stroke-width="0.2">125</text>
<line x1="555.00" y1="552.40" x2="555.00" y2="555.40" stroke="#3a3a3a" stroke-width="1.0"/>
<text x="555.00" y="564.80" font-size="9.4" text-anchor="middle" fill="#111" stroke="#111" stroke-width="0.2">-2.0</text>
<line x1="585.33" y1="552.40" x2="585.33" y2="555.40" stroke="#3a3a3a" stroke-width="1.0"/>
<text x="585.33" y="564.80" font-size="9.4" text-anchor="middle" fill="#111" stroke="#111" stroke-width="0.2">-1.5</text>
<line x1="615.65" y1="552.40" x2="615.65" y2="555.40" stroke="#3a3a3a" stroke-width="1.0"/>
<text x="615.65" y="564.80" font-size="9.4" text-anchor="middle" fill="#111" stroke="#111" stroke-width="0.2">-1.0</text>
<line x1="645.97" y1="552.40" x2="645.97" y2="555.40" stroke="#3a3a3a" stroke-width="1.0"/>
<text x="645.97" y="564.80" font-size="9.4" text-anchor="middle" fill="#111" stroke="#111" stroke-width="0.2">-0.5</text>
<line x1="676.30" y1="552.40" x2="676.30" y2="555.40" stroke="#3a3a3a" stroke-width="1.0"/>
<text x="676.30" y="564.80" font-size="9.4" text-anchor="middle" fill="#111" stroke="#111" stroke-width="0.2">0</text>
<text x="613.95" y="575.60" font-size="9.6" text-anchor="middle" fill="#111" stroke="#111" stroke-width="0.2">Log [Doxo] (μM)</text>
<text x="528.30" y="483.15" font-size="9.6" text-anchor="middle" fill="#111" stroke="#111" stroke-width="0.2" transform="rotate(-90 528.30 483.15)">Normalized cell viability (%)</text>
<path d="M583.90,426.20 C589.17,426.83 605.33,425.87 615.50,430.00 C625.67,434.13 637.62,444.45 644.90,451.00 C652.18,457.55 654.98,461.37 659.20,469.30 C663.42,477.23 667.30,490.42 670.20,498.60 C673.10,506.78 675.53,515.10 676.60,518.40" fill="none" stroke="#4b4bf0" stroke-width="1.0"/>
<path d="M583.90,427.50 C589.17,428.42 605.33,428.83 615.50,433.00 C625.67,437.17 638.23,446.45 644.90,452.50 C651.57,458.55 651.58,461.62 655.50,469.30 C659.42,476.98 664.88,490.38 668.40,498.60 C671.92,506.82 675.23,515.27 676.60,518.60" fill="none" stroke="#2d2de6" stroke-width="1.0"/>
<path d="M583.90,431.70 C589.17,432.65 605.33,432.85 615.50,437.40 C625.67,441.95 638.72,453.68 644.90,459.00 C651.08,464.32 648.83,462.70 652.60,469.30 C656.37,475.90 663.50,490.27 667.50,498.60 C671.50,506.93 675.08,515.85 676.60,519.30" fill="none" stroke="#35358f" stroke-width="1.0"/>
<circle cx="583.94" cy="419.77" r="1.65" fill="#fff" stroke="#a8a8f2" stroke-width="1.0"/>
<circle cx="615.65" cy="441.65" r="1.65" fill="#fff" stroke="#a8a8f2" stroke-width="1.0"/>
<circle cx="644.59" cy="451.06" r="1.65" fill="#fff" stroke="#a8a8f2" stroke-width="1.0"/>
<circle cx="676.30" cy="523.27" r="1.65" fill="#fff" stroke="#a8a8f2" stroke-width="1.0"/>
<circle cx="583.94" cy="426.34" r="1.65" fill="#fff" stroke="#6c6cf0" stroke-width="1.0"/>
<circle cx="615.65" cy="430.20" r="1.65" fill="#fff" stroke="#6c6cf0" stroke-width="1.0"/>
<circle cx="644.59" cy="451.96" r="1.65" fill="#fff" stroke="#6c6cf0" stroke-width="1.0"/>
<circle cx="676.30" cy="518.51" r="1.65" fill="#fff" stroke="#6c6cf0" stroke-width="1.0"/>
<circle cx="583.94" cy="427.25" r="1.65" fill="#fff" stroke="#4b4bf0" stroke-width="1.0"/>
<circle cx="615.65" cy="432.47" r="1.65" fill="#fff" stroke="#4b4bf0" stroke-width="1.0"/>
<circle cx="644.59" cy="454.00" r="1.65" fill="#fff" stroke="#4b4bf0" stroke-width="1.0"/>
<circle cx="676.30" cy="518.51" r="1.65" fill="#fff" stroke="#4b4bf0" stroke-width="1.0"/>
<circle cx="583.94" cy="426.80" r="1.65" fill="#fff" stroke="#2d2de6" stroke-width="1.0"/>
<circle cx="615.65" cy="431.67" r="1.65" fill="#fff" stroke="#2d2de6" stroke-width="1.0"/>
<circle cx="644.59" cy="452.64" r="1.65" fill="#fff" stroke="#2d2de6" stroke-width="1.0"/>
<circle cx="676.30" cy="518.96" r="1.65" fill="#fff" stroke="#2d2de6" stroke-width="1.0"/>
<circle cx="583.94" cy="431.67" r="1.65" fill="#fff" stroke="#35358f" stroke-width="1.0"/>
<circle cx="615.65" cy="437.34" r="1.65" fill="#fff" stroke="#35358f" stroke-width="1.0"/>
<circle cx="644.59" cy="459.10" r="1.65" fill="#fff" stroke="#35358f" stroke-width="1.0"/>
<circle cx="676.30" cy="519.19" r="1.65" fill="#fff" stroke="#35358f" stroke-width="1.0"/>
<text x="561.90" y="408.40" font-size="9.6" text-anchor="start" fill="#111" stroke="#111" stroke-width="0.2">MCF7</text>
<line x1="559.00" y1="508.80" x2="564.30" y2="508.80" stroke="#a8a8f2" stroke-width="1.1"/>
<text x="566.60" y="511.60" font-size="8.0" text-anchor="start" fill="#111" stroke="#111" stroke-width="0.2">DHA 25 μM</text>
<line x1="559.00" y1="517.60" x2="564.30" y2="517.60" stroke="#6c6cf0" stroke-width="1.1"/>
<text x="566.60" y="520.40" font-size="8.0" text-anchor="start" fill="#111" stroke="#111" stroke-width="0.2">DHA 50 μM</text>
<line x1="559.00" y1="526.30" x2="564.30" y2="526.30" stroke="#4b4bf0" stroke-width="1.1"/>
<text x="566.60" y="529.10" font-size="8.0" text-anchor="start" fill="#111" stroke="#111" stroke-width="0.2">DHA 75 μM</text>
<line x1="559.00" y1="535.10" x2="564.30" y2="535.10" stroke="#2d2de6" stroke-width="1.1"/>
<text x="566.60" y="537.90" font-size="8.0" text-anchor="start" fill="#111" stroke="#111" stroke-width="0.2">DHA 100 μM</text>
<line x1="559.00" y1="543.80" x2="564.30" y2="543.80" stroke="#35358f" stroke-width="1.1"/>
<text x="566.60" y="546.60" font-size="8.0" text-anchor="start" fill="#111" stroke="#111" stroke-width="0.2">DHA 150 μM</text>
<line x1="554.40" y1="209.40" x2="554.40" y2="251.70" stroke="#3a3a3a" stroke-width="1.0"/>
<line x1="554.40" y1="259.50" x2="554.40" y2="302.70" stroke="#3a3a3a" stroke-width="1.0"/>
<line x1="554.40" y1="310.60" x2="554.40" y2="353.40" stroke="#3a3a3a" stroke-width="1.0"/>
<line x1="551.50" y1="353.20" x2="678.30" y2="353.20" stroke="#3a3a3a" stroke-width="1.0"/>
<line x1="551.60" y1="248.90" x2="557.20" y2="254.50" stroke="#3a3a3a" stroke-width="1.0"/>
<line x1="551.60" y1="256.70" x2="557.20" y2="262.30" stroke="#3a3a3a" stroke-width="1.0"/>
<line x1="551.60" y1="299.90" x2="557.20" y2="305.50" stroke="#3a3a3a" stroke-width="1.0"/>
<line x1="551.60" y1="307.80" x2="557.20" y2="313.40" stroke="#3a3a3a" stroke-width="1.0"/>
<line x1="551.40" y1="209.40" x2="554.40" y2="209.40" stroke="#3a3a3a" stroke-width="1.0"/>
<text x="548.40" y="212.30" font-size="9.4" text-anchor="end" fill="#111" stroke="#111" stroke-width="0.2">100</text>
<line x1="551.40" y1="227.80" x2="554.40" y2="227.80" stroke="#3a3a3a" stroke-width="1.0"/>
<text x="548.40" y="230.70" font-size="9.4" text-anchor="end" fill="#111" stroke="#111" stroke-width="0.2">80</text>
<line x1="551.40" y1="246.30" x2="554.40" y2="246.30" stroke="#3a3a3a" stroke-width="1.0"/>
<text x="548.40" y="249.20" font-size="9.4" text-anchor="end" fill="#111" stroke="#111" stroke-width="0.2">60</text>
<line x1="551.40" y1="274.20" x2="554.40" y2="274.20" stroke="#3a3a3a" stroke-width="1.0"/>
<text x="548.40" y="277.10" font-size="9.4" text-anchor="end" fill="#111" stroke="#111" stroke-width="0.2">25</text>
<line x1="551.40" y1="288.40" x2="554.40" y2="288.40" stroke="#3a3a3a" stroke-width="1.0"/>
<text x="548.40" y="291.30" font-size="9.4" text-anchor="end" fill="#111" stroke="#111" stroke-width="0.2">20</text>
<text x="548.40" y="263.30" font-size="9.4" text-anchor="end" fill="#111" stroke="#111" stroke-width="0.2">30</text>
<text x="548.40" y="305.30" font-size="9.4" text-anchor="end" fill="#111" stroke="#111" stroke-width="0.2">15</text>
<line x1="551.40" y1="353.20" x2="554.40" y2="353.20" stroke="#3a3a3a" stroke-width="1.0"/>
<text x="548.40" y="356.10" font-size="9.4" text-anchor="end" fill="#111" stroke="#111" stroke-width="0.2">0</text>
<line x1="551.40" y1="332.10" x2="554.40" y2="332.10" stroke="#3a3a3a" stroke-width="1.0"/>
<text x="548.40" y="335.00" font-size="9.4" text-anchor="end" fill="#111" stroke="#111" stroke-width="0.2">1</text>
<text x="548.40" y="313.70" font-size="9.4" text-anchor="end" fill="#111" stroke="#111" stroke-width="0.2">2</text>
<text x="529.10" y="281.30" font-size="9.6" text-anchor="middle" fill="#111" stroke="#111" stroke-width="0.2" transform="rotate(-90 529.10 281.30)">Relative gene expression (fold)</text>
<rect x="561.30" y="331.90" width="27.50" height="21.30" fill="#1a1af0"/>
<rect x="602.40" y="311.00" width="27.60" height="42.20" fill="#f52a1a"/>
<rect x="602.40" y="290.00" width="27.60" height="12.60" fill="#f52a1a"/>
<rect x="643.60" y="311.00" width="27.60" height="42.20" fill="#4ade26"/>
<rect x="643.60" y="259.80" width="27.60" height="42.80" fill="#4ade26"/>
<rect x="643.60" y="233.90" width="27.60" height="17.70" fill="#4ade26"/>
<line x1="574.90" y1="326.20" x2="574.90" y2="331.90" stroke="#1a1af0" stroke-width="1.0"/>
<line x1="567.90" y1="326.20" x2="581.60" y2="326.20" stroke="#1a1af0" stroke-width="1.0"/>
<circle cx="574.90" cy="320.40" r="1.7" fill="#fff" stroke="#1a1af0" stroke-width="0.9"/>
<circle cx="568.30" cy="337.60" r="1.2" fill="#fff" stroke="#fff" stroke-width="0.5"/>
<circle cx="581.60" cy="337.60" r="1.2" fill="#fff" stroke="#fff" stroke-width="0.5"/>
<line x1="616.10" y1="284.60" x2="616.10" y2="290.00" stroke="#f52a1a" stroke-width="1.0"/>
<line x1="609.00" y1="284.60" x2="623.00" y2="284.60" stroke="#f52a1a" stroke-width="1.0"/>
<circle cx="616.10" cy="281.00" r="1.7" fill="#fff" stroke="#f52a1a" stroke-width="0.9"/>
<circle cx="616.10" cy="289.40" r="1.7" fill="#fff" stroke="#f52a1a" stroke-width="0.9"/>
<circle cx="616.10" cy="299.10" r="1.2" fill="#fff" stroke="#fff" stroke-width="0.5"/>
<line x1="657.40" y1="225.90" x2="657.40" y2="233.90" stroke="#4ade26" stroke-width="1.0"/>
<line x1="650.50" y1="225.90" x2="664.00" y2="225.90" stroke="#4ade26" stroke-width="1.0"/>
<circle cx="657.40" cy="222.00" r="1.7" fill="#fff" stroke="#4ade26" stroke-width="0.9"/>
<circle cx="657.40" cy="229.60" r="1.7" fill="#fff" stroke="#4ade26" stroke-width="0.9"/>
<circle cx="657.40" cy="249.00" r="1.2" fill="#fff" stroke="#fff" stroke-width="0.5"/>
<text x="615.00" y="208.40" font-size="9.6" text-anchor="middle" fill="#111" stroke="#111" stroke-width="0.2">ACSL6</text>
<line x1="574.90" y1="217.50" x2="656.10" y2="217.50" stroke="#8a8a8a" stroke-width="1.0"/>
<line x1="574.90" y1="228.50" x2="616.10" y2="228.50" stroke="#555" stroke-width="1.0"/>
<text x="616.00" y="217.40" font-size="7.2" text-anchor="middle" letter-spacing="1.0" fill="#111" stroke="#111" stroke-width="0.25">**</text>
<text x="594.40" y="227.90" font-size="7.2" text-anchor="middle" letter-spacing="1.0" fill="#111" stroke="#111" stroke-width="0.25">***</text>
<text x="575.90" y="365.60" font-size="9.6" text-anchor="middle" fill="#111" stroke="#111" stroke-width="0.2">SW48</text>
<text x="616.10" y="365.60" font-size="9.6" text-anchor="middle" fill="#111" stroke="#111" stroke-width="0.2">LoVo</text>
<text x="657.50" y="365.60" font-size="9.6" text-anchor="middle" fill="#111" stroke="#111" stroke-width="0.2">Colo320</text>
</svg></body></html>
